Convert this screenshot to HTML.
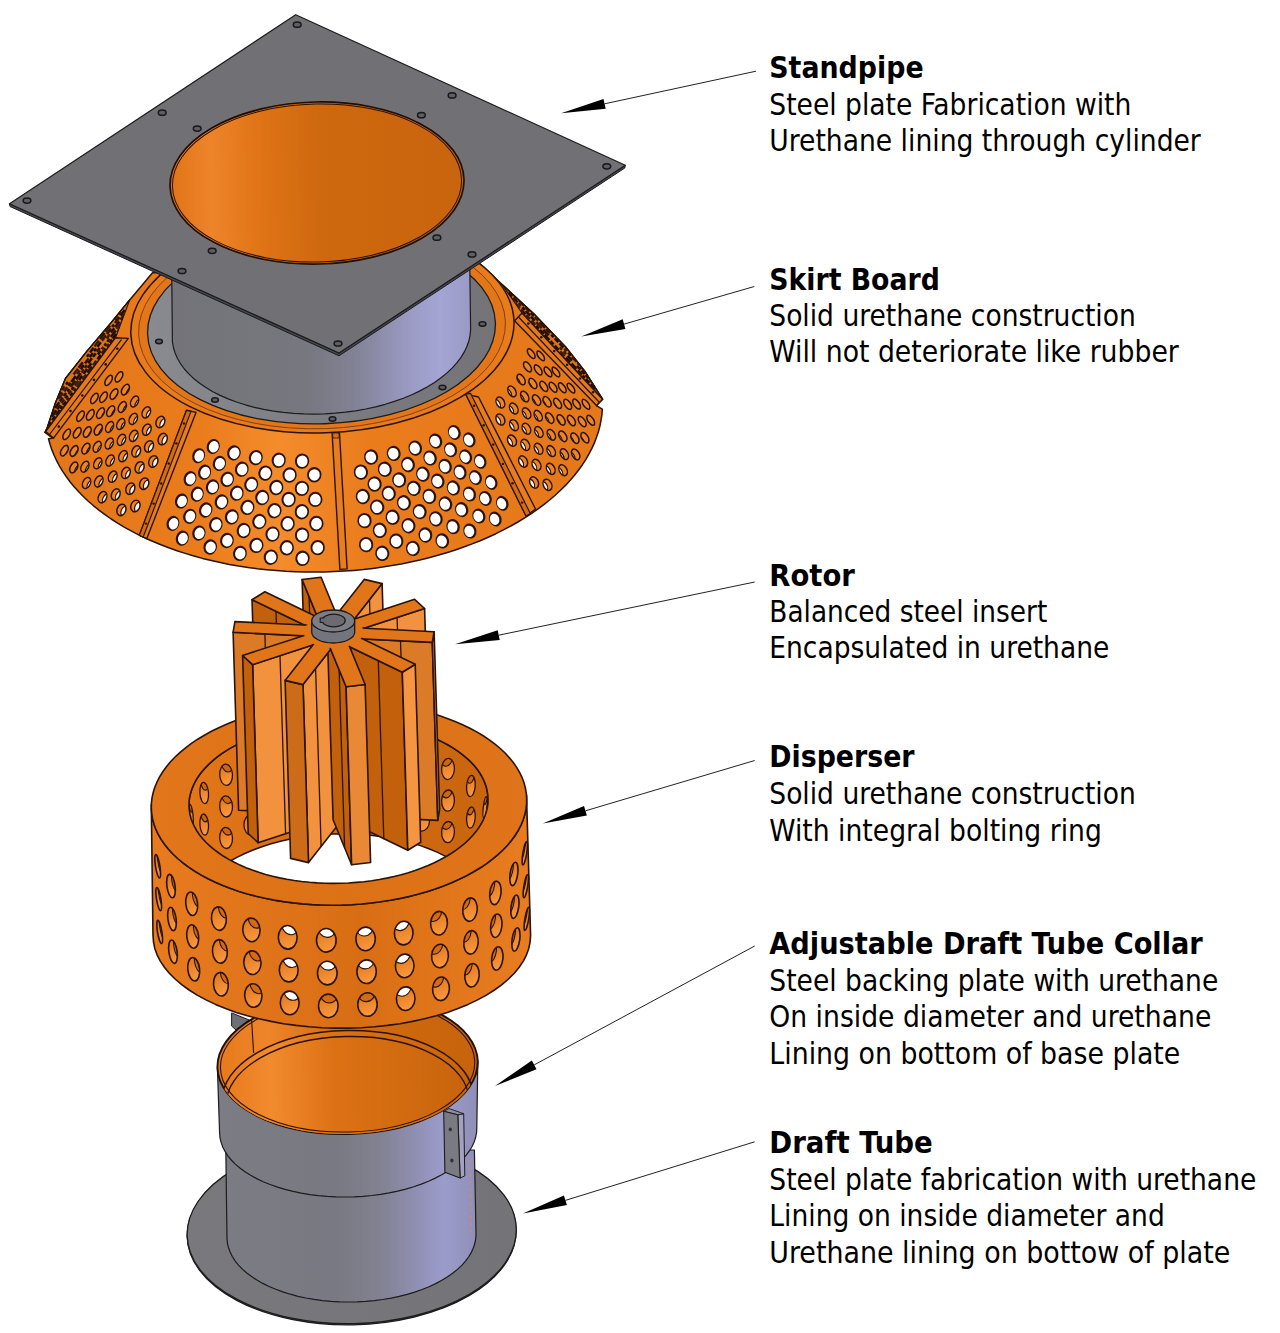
<!DOCTYPE html>
<html lang="en"><head><meta charset="utf-8"><title>Exploded assembly</title>
<style>
html,body{margin:0;padding:0;background:#fff;}
body{width:1280px;height:1333px;overflow:hidden;}
svg{display:block;}
text{font-family:"DejaVu Sans Condensed","DejaVu Sans","Liberation Sans",sans-serif;font-size:30px;fill:#000;}
text.b{font-weight:bold;}
</style></head><body>
<svg width="1280" height="1333" viewBox="0 0 1280 1333">
<defs>
<clipPath id="u"><circle r="1"/></clipPath>
<linearGradient id="gHole" gradientUnits="userSpaceOnUse" x1="170" y1="0" x2="464" y2="0"><stop offset="0" stop-color="#df7317"/><stop offset="0.14" stop-color="#ee842a"/><stop offset="0.3" stop-color="#e07416"/><stop offset="0.5" stop-color="#cf690f"/><stop offset="1" stop-color="#c8640d"/></linearGradient>
<linearGradient id="gCyl" gradientUnits="userSpaceOnUse" x1="171" y1="0" x2="470" y2="0"><stop offset="0" stop-color="#737379"/><stop offset="0.45" stop-color="#77777f"/><stop offset="0.62" stop-color="#828296"/><stop offset="0.78" stop-color="#9898c0"/><stop offset="0.9" stop-color="#a5a5d5"/><stop offset="1" stop-color="#9a9ac6"/></linearGradient>
<linearGradient id="gSkirt" gradientUnits="userSpaceOnUse" x1="45" y1="0" x2="603" y2="0"><stop offset="0" stop-color="#e2761a"/><stop offset="0.28" stop-color="#ea7c1c"/><stop offset="0.42" stop-color="#f48c2c"/><stop offset="0.58" stop-color="#ea7c1c"/><stop offset="1" stop-color="#e4781a"/></linearGradient>
<linearGradient id="gDisp" gradientUnits="userSpaceOnUse" x1="151" y1="0" x2="529" y2="0"><stop offset="0" stop-color="#e87b1e"/><stop offset="0.3" stop-color="#e0741a"/><stop offset="0.55" stop-color="#d86e14"/><stop offset="0.8" stop-color="#e2761a"/><stop offset="1" stop-color="#e87c20"/></linearGradient>
<linearGradient id="gDispTop" gradientUnits="userSpaceOnUse" x1="151" y1="0" x2="529" y2="0"><stop offset="0" stop-color="#e2761a"/><stop offset="0.5" stop-color="#dc7116"/><stop offset="1" stop-color="#e0741a"/></linearGradient>
<linearGradient id="gTube" gradientUnits="userSpaceOnUse" x1="217" y1="0" x2="478" y2="0"><stop offset="0" stop-color="#7c7c84"/><stop offset="0.45" stop-color="#797983"/><stop offset="0.62" stop-color="#818190"/><stop offset="0.75" stop-color="#8e8eb0"/><stop offset="0.87" stop-color="#9c9ccc"/><stop offset="1" stop-color="#8e8eb6"/></linearGradient>
<linearGradient id="gTubeIn" gradientUnits="userSpaceOnUse" x1="217" y1="0" x2="478" y2="0"><stop offset="0" stop-color="#e67a1c"/><stop offset="0.2" stop-color="#ee852a"/><stop offset="0.45" stop-color="#d56c10"/><stop offset="1" stop-color="#c6630c"/></linearGradient>
<linearGradient id="gFlange" gradientUnits="userSpaceOnUse" x1="187" y1="0" x2="517" y2="0"><stop offset="0" stop-color="#78787d"/><stop offset="1" stop-color="#737378"/></linearGradient>
<linearGradient id="gFlangeS" gradientUnits="userSpaceOnUse" x1="147" y1="0" x2="496" y2="0"><stop offset="0" stop-color="#8a8a91"/><stop offset="0.5" stop-color="#7c7c82"/><stop offset="1" stop-color="#737378"/></linearGradient>
<linearGradient id="gSkirtV" gradientUnits="userSpaceOnUse" x1="0" y1="330" x2="0" y2="570"><stop offset="0" stop-color="#ffffff00"/><stop offset="1" stop-color="#ffffff00"/></linearGradient>
<linearGradient id="gDH" x1="0" y1="0" x2="0.3" y2="1"><stop offset="0" stop-color="#dd7318"/><stop offset="1" stop-color="#f8973e"/></linearGradient>
<linearGradient id="gDispIn" gradientUnits="userSpaceOnUse" x1="188" y1="0" x2="490" y2="0"><stop offset="0" stop-color="#e37719"/><stop offset="0.3" stop-color="#d97014"/><stop offset="0.7" stop-color="#cf6910"/><stop offset="1" stop-color="#c8650e"/></linearGradient>
<linearGradient id="gTubeIn2" gradientUnits="userSpaceOnUse" x1="228" y1="0" x2="468" y2="0"><stop offset="0" stop-color="#e87c1e"/><stop offset="0.18" stop-color="#f28a2e"/><stop offset="0.45" stop-color="#dc7114"/><stop offset="1" stop-color="#c8640c"/></linearGradient>
</defs>
<g id="drafttube">
<ellipse cx="351.7" cy="1233.2" rx="164.6" ry="91.6" transform="rotate(-1.2 351.7 1233.2)" fill="#3a3a40" stroke="#1c1c1c" stroke-width="1.2" />
<ellipse cx="351.7" cy="1232" rx="164.6" ry="91.6" transform="rotate(-1.2 351.7 1232)" fill="url(#gFlange)" stroke="#1c1c1c" stroke-width="1.3" />
<polygon points="231.6,1012.9 249.2,1020 236,1030 231.6,1026" fill="#6e6e76" stroke="#1c1c1c" stroke-width="1" stroke-linejoin="round" />
<polygon points="225.8,1150 227,1238.2 227.4,1242.8 228.4,1247.3 230,1251.8 232.2,1256.3 234.9,1260.6 238.2,1264.8 242.1,1268.9 246.5,1272.8 251.5,1276.5 256.9,1280.1 262.8,1283.4 269.1,1286.5 275.8,1289.3 282.8,1291.9 290.3,1294.2 298,1296.3 305.9,1298 314.1,1299.4 322.5,1300.6 331,1301.4 339.6,1301.9 348.3,1302 357,1301.9 365.7,1301.4 374.3,1300.6 382.7,1299.5 391.1,1298.1 399.2,1296.4 407.1,1294.4 414.7,1292.1 422.1,1289.5 429,1286.7 435.7,1283.6 441.8,1280.3 447.6,1276.8 452.9,1273 457.7,1269.1 462,1265.1 465.7,1260.9 468.9,1256.5 471.5,1252.1 473.5,1247.6 474.9,1243 475.8,1238.4 476,1233.8 474.4,1150" fill="url(#gTube)" stroke="#1c1c1c" stroke-width="1.2" stroke-linejoin="round" />
<path d="M470 1160 L471.5 1236" stroke="#d98a5a" stroke-width="1.2" stroke-dasharray="3 4" fill="none"/>
<polygon points="217.4,1067.7 219.6,1133.2 220,1137.8 221.1,1142.4 222.7,1147 225,1151.4 227.9,1155.8 231.3,1160 235.3,1164.1 239.9,1168 245,1171.8 250.6,1175.3 256.7,1178.6 263.2,1181.7 270.1,1184.5 277.5,1187.1 285.1,1189.4 293.1,1191.4 301.3,1193.2 309.8,1194.6 318.4,1195.7 327.2,1196.4 336.1,1196.9 345.1,1197 354.1,1196.9 363,1196.3 371.9,1195.5 380.7,1194.4 389.3,1192.9 397.7,1191.1 405.8,1189.1 413.7,1186.7 421.3,1184.1 428.5,1181.2 435.3,1178.1 441.7,1174.7 447.6,1171.2 453,1167.4 458,1163.4 462.4,1159.3 466.2,1155.1 469.5,1150.7 472.2,1146.2 474.3,1141.7 475.7,1137.1 476.6,1132.5 476.8,1127.8 477.8,1061.3" fill="url(#gTube)" stroke="#1c1c1c" stroke-width="1.2" stroke-linejoin="round" />
<clipPath id="cRim"><ellipse cx="347.6" cy="1064.5" rx="130.2" ry="69.5" transform="rotate(-1.4 347.6 1064.5)" fill="#000" stroke="none" stroke-width="0" /></clipPath>
<ellipse cx="347.6" cy="1064.5" rx="130.2" ry="69.5" transform="rotate(-1.4 347.6 1064.5)" fill="url(#gTubeIn)" stroke="#1f0f06" stroke-width="1.9" />
<g clip-path="url(#cRim)">
<ellipse cx="347.6" cy="1098.5" rx="125.5" ry="68" transform="rotate(-1.2 347.6 1098.5)" fill="url(#gTubeIn2)" stroke="#2a1208" stroke-width="1.5" />
<ellipse cx="347.6" cy="1102.5" rx="121.5" ry="66" transform="rotate(-1.2 347.6 1102.5)" fill="url(#gTubeIn2)" stroke="#2a1208" stroke-width="1.4" />
<path d="M251.6 1020 L253.6 1053" stroke="#2a1208" stroke-width="1.1" fill="none"/>
</g>
<ellipse cx="347.6" cy="1064.8" rx="127.2" ry="67.2" transform="rotate(-1.4 347.6 1064.8)" fill="none" stroke="#2a1208" stroke-width="1.1" />
<polygon points="457.8,1114.8 463.7,1113.7 464.8,1175.8 460.1,1178.1" fill="#a2a2c0" stroke="#1c1c1c" stroke-width="1" stroke-linejoin="round" />
<polygon points="443.7,1111.3 449,1108.5 463.7,1113.7 457.8,1114.8" fill="#8e8e9c" stroke="#1c1c1c" stroke-width="0.9" stroke-linejoin="round" />
<polygon points="443.7,1111.3 457.8,1114.8 460.1,1178.1 444.9,1172.3" fill="#7a7a82" stroke="#1c1c1c" stroke-width="1.1" stroke-linejoin="round" />
<ellipse cx="450.3" cy="1129.4" rx="1.7" ry="1.9" fill="#33333a"/>
<ellipse cx="451.9" cy="1160.5" rx="1.7" ry="1.9" fill="#33333a"/>
</g>
<g id="disperser-back">
<polygon points="488,798.3 487.5,792.6 486.3,787 484.3,781.5 481.7,776.1 478.3,770.8 474.3,765.6 469.5,760.7 464.2,755.9 458.2,751.4 451.7,747.1 444.6,743.1 437,739.3 428.9,735.9 420.4,732.8 411.4,730 402.1,727.6 392.6,725.6 382.7,723.9 372.6,722.6 362.4,721.7 352,721.2 341.6,721 331.2,721.3 320.8,722 310.4,723 300.3,724.5 290.3,726.3 280.5,728.5 271,731 261.9,733.9 253.1,737.2 244.8,740.7 236.9,744.6 229.4,748.7 222.6,753.1 216.3,757.7 210.6,762.6 205.5,767.6 201,772.8 197.2,778.2 194.2,783.6 191.8,789.2 190.1,794.8 189.2,800.5 189,806.1 189,918.9 189.2,913.3 190.1,907.6 191.8,902 194.2,896.4 197.2,891 201,885.6 205.5,880.4 210.6,875.4 216.3,870.5 222.6,865.9 229.4,861.5 236.9,857.4 244.8,853.5 253.1,850 261.9,846.7 271,843.8 280.5,841.3 290.3,839.1 300.3,837.3 310.4,835.8 320.8,834.8 331.2,834.1 341.6,833.8 352,834 362.4,834.5 372.6,835.4 382.7,836.7 392.6,838.4 402.1,840.4 411.4,842.8 420.4,845.6 428.9,848.7 437,852.1 444.6,855.9 451.7,859.9 458.2,864.2 464.2,868.7 469.5,873.5 474.3,878.4 478.3,883.6 481.7,888.9 484.3,894.3 486.3,899.8 487.5,905.4 488,911.1" fill="url(#gDispIn)" stroke="#2a1408" stroke-width="1.5" stroke-linejoin="round" />
<g transform="translate(191.2 815) rotate(-6.5) scale(1.8 10.6)"><circle r="1" fill="url(#gDH)"/><circle cx="0.35" cy="-1.25" r="1" fill="#cc6710" stroke="#2a1408" stroke-width="1.1" vector-effect="non-scaling-stroke" clip-path="url(#u)"/><circle r="1" fill="none" stroke="#2a1408" stroke-width="1.3" vector-effect="non-scaling-stroke"/></g>
<g transform="translate(191.2 846.6) rotate(-6.5) scale(1.8 10.6)"><circle r="1" fill="url(#gDH)"/><circle cx="0.35" cy="-1.25" r="1" fill="#cc6710" stroke="#2a1408" stroke-width="1.1" vector-effect="non-scaling-stroke" clip-path="url(#u)"/><circle r="1" fill="none" stroke="#2a1408" stroke-width="1.3" vector-effect="non-scaling-stroke"/></g>
<g transform="translate(191.2 878.2) rotate(-6.5) scale(1.8 10.6)"><circle r="1" fill="url(#gDH)"/><circle cx="0.35" cy="-1.25" r="1" fill="#cc6710" stroke="#2a1408" stroke-width="1.1" vector-effect="non-scaling-stroke" clip-path="url(#u)"/><circle r="1" fill="none" stroke="#2a1408" stroke-width="1.3" vector-effect="non-scaling-stroke"/></g>
<g transform="translate(204.2 793) rotate(-4.4) scale(4.3 10.6)"><circle r="1" fill="url(#gDH)"/><circle cx="0.35" cy="-1.25" r="1" fill="#cc6710" stroke="#2a1408" stroke-width="1.1" vector-effect="non-scaling-stroke" clip-path="url(#u)"/><circle r="1" fill="none" stroke="#2a1408" stroke-width="1.3" vector-effect="non-scaling-stroke"/></g>
<g transform="translate(204.2 824.6) rotate(-4.4) scale(4.3 10.6)"><circle r="1" fill="url(#gDH)"/><circle cx="0.35" cy="-1.25" r="1" fill="#cc6710" stroke="#2a1408" stroke-width="1.1" vector-effect="non-scaling-stroke" clip-path="url(#u)"/><circle r="1" fill="none" stroke="#2a1408" stroke-width="1.3" vector-effect="non-scaling-stroke"/></g>
<g transform="translate(204.2 856.2) rotate(-4.4) scale(4.3 10.6)"><circle r="1" fill="url(#gDH)"/><circle cx="0.35" cy="-1.25" r="1" fill="#cc6710" stroke="#2a1408" stroke-width="1.1" vector-effect="non-scaling-stroke" clip-path="url(#u)"/><circle r="1" fill="none" stroke="#2a1408" stroke-width="1.3" vector-effect="non-scaling-stroke"/></g>
<g transform="translate(226.1 774.8) rotate(-2.6) scale(6.4 10.6)"><circle r="1" fill="url(#gDH)"/><circle cx="0.35" cy="-1.25" r="1" fill="#cc6710" stroke="#2a1408" stroke-width="1.1" vector-effect="non-scaling-stroke" clip-path="url(#u)"/><circle r="1" fill="none" stroke="#2a1408" stroke-width="1.3" vector-effect="non-scaling-stroke"/></g>
<g transform="translate(226.1 806.4) rotate(-2.6) scale(6.4 10.6)"><circle r="1" fill="url(#gDH)"/><circle cx="0.35" cy="-1.25" r="1" fill="#cc6710" stroke="#2a1408" stroke-width="1.1" vector-effect="non-scaling-stroke" clip-path="url(#u)"/><circle r="1" fill="none" stroke="#2a1408" stroke-width="1.3" vector-effect="non-scaling-stroke"/></g>
<g transform="translate(226.1 837.9) rotate(-2.6) scale(6.4 10.6)"><circle r="1" fill="url(#gDH)"/><circle cx="0.35" cy="-1.25" r="1" fill="#cc6710" stroke="#2a1408" stroke-width="1.1" vector-effect="non-scaling-stroke" clip-path="url(#u)"/><circle r="1" fill="none" stroke="#2a1408" stroke-width="1.3" vector-effect="non-scaling-stroke"/></g>
<g transform="translate(251.8 761.7) rotate(-1.4) scale(7.9 10.6)"><circle r="1" fill="url(#gDH)"/><circle cx="0.35" cy="-1.25" r="1" fill="#cc6710" stroke="#2a1408" stroke-width="1.1" vector-effect="non-scaling-stroke" clip-path="url(#u)"/><circle r="1" fill="none" stroke="#2a1408" stroke-width="1.3" vector-effect="non-scaling-stroke"/></g>
<g transform="translate(251.8 793.3) rotate(-1.4) scale(7.9 10.6)"><circle r="1" fill="url(#gDH)"/><circle cx="0.35" cy="-1.25" r="1" fill="#cc6710" stroke="#2a1408" stroke-width="1.1" vector-effect="non-scaling-stroke" clip-path="url(#u)"/><circle r="1" fill="none" stroke="#2a1408" stroke-width="1.3" vector-effect="non-scaling-stroke"/></g>
<g transform="translate(251.8 824.9) rotate(-1.4) scale(7.9 10.6)"><circle r="1" fill="url(#gDH)"/><circle cx="0.35" cy="-1.25" r="1" fill="#cc6710" stroke="#2a1408" stroke-width="1.1" vector-effect="non-scaling-stroke" clip-path="url(#u)"/><circle r="1" fill="none" stroke="#2a1408" stroke-width="1.3" vector-effect="non-scaling-stroke"/></g>
<g transform="translate(421.7 757.3) rotate(1.4) scale(7.9 10.6)"><circle r="1" fill="url(#gDH)"/><circle cx="-0.35" cy="-1.25" r="1" fill="#cc6710" stroke="#2a1408" stroke-width="1.1" vector-effect="non-scaling-stroke" clip-path="url(#u)"/><circle r="1" fill="none" stroke="#2a1408" stroke-width="1.3" vector-effect="non-scaling-stroke"/></g>
<g transform="translate(421.7 788.9) rotate(1.4) scale(7.9 10.6)"><circle r="1" fill="url(#gDH)"/><circle cx="-0.35" cy="-1.25" r="1" fill="#cc6710" stroke="#2a1408" stroke-width="1.1" vector-effect="non-scaling-stroke" clip-path="url(#u)"/><circle r="1" fill="none" stroke="#2a1408" stroke-width="1.3" vector-effect="non-scaling-stroke"/></g>
<g transform="translate(421.7 820.5) rotate(1.4) scale(7.9 10.6)"><circle r="1" fill="url(#gDH)"/><circle cx="-0.35" cy="-1.25" r="1" fill="#cc6710" stroke="#2a1408" stroke-width="1.1" vector-effect="non-scaling-stroke" clip-path="url(#u)"/><circle r="1" fill="none" stroke="#2a1408" stroke-width="1.3" vector-effect="non-scaling-stroke"/></g>
<g transform="translate(448 769) rotate(2.6) scale(6.4 10.6)"><circle r="1" fill="url(#gDH)"/><circle cx="-0.35" cy="-1.25" r="1" fill="#cc6710" stroke="#2a1408" stroke-width="1.1" vector-effect="non-scaling-stroke" clip-path="url(#u)"/><circle r="1" fill="none" stroke="#2a1408" stroke-width="1.3" vector-effect="non-scaling-stroke"/></g>
<g transform="translate(448 800.6) rotate(2.6) scale(6.4 10.6)"><circle r="1" fill="url(#gDH)"/><circle cx="-0.35" cy="-1.25" r="1" fill="#cc6710" stroke="#2a1408" stroke-width="1.1" vector-effect="non-scaling-stroke" clip-path="url(#u)"/><circle r="1" fill="none" stroke="#2a1408" stroke-width="1.3" vector-effect="non-scaling-stroke"/></g>
<g transform="translate(448 832.1) rotate(2.6) scale(6.4 10.6)"><circle r="1" fill="url(#gDH)"/><circle cx="-0.35" cy="-1.25" r="1" fill="#cc6710" stroke="#2a1408" stroke-width="1.1" vector-effect="non-scaling-stroke" clip-path="url(#u)"/><circle r="1" fill="none" stroke="#2a1408" stroke-width="1.3" vector-effect="non-scaling-stroke"/></g>
<g transform="translate(470.9 786) rotate(4.4) scale(4.3 10.6)"><circle r="1" fill="url(#gDH)"/><circle cx="-0.35" cy="-1.25" r="1" fill="#cc6710" stroke="#2a1408" stroke-width="1.1" vector-effect="non-scaling-stroke" clip-path="url(#u)"/><circle r="1" fill="none" stroke="#2a1408" stroke-width="1.3" vector-effect="non-scaling-stroke"/></g>
<g transform="translate(470.9 817.6) rotate(4.4) scale(4.3 10.6)"><circle r="1" fill="url(#gDH)"/><circle cx="-0.35" cy="-1.25" r="1" fill="#cc6710" stroke="#2a1408" stroke-width="1.1" vector-effect="non-scaling-stroke" clip-path="url(#u)"/><circle r="1" fill="none" stroke="#2a1408" stroke-width="1.3" vector-effect="non-scaling-stroke"/></g>
<g transform="translate(470.9 849.2) rotate(4.4) scale(4.3 10.6)"><circle r="1" fill="url(#gDH)"/><circle cx="-0.35" cy="-1.25" r="1" fill="#cc6710" stroke="#2a1408" stroke-width="1.1" vector-effect="non-scaling-stroke" clip-path="url(#u)"/><circle r="1" fill="none" stroke="#2a1408" stroke-width="1.3" vector-effect="non-scaling-stroke"/></g>
<g transform="translate(485.1 807.3) rotate(6.5) scale(1.8 10.6)"><circle r="1" fill="url(#gDH)"/><circle cx="-0.35" cy="-1.25" r="1" fill="#cc6710" stroke="#2a1408" stroke-width="1.1" vector-effect="non-scaling-stroke" clip-path="url(#u)"/><circle r="1" fill="none" stroke="#2a1408" stroke-width="1.3" vector-effect="non-scaling-stroke"/></g>
<g transform="translate(485.1 838.9) rotate(6.5) scale(1.8 10.6)"><circle r="1" fill="url(#gDH)"/><circle cx="-0.35" cy="-1.25" r="1" fill="#cc6710" stroke="#2a1408" stroke-width="1.1" vector-effect="non-scaling-stroke" clip-path="url(#u)"/><circle r="1" fill="none" stroke="#2a1408" stroke-width="1.3" vector-effect="non-scaling-stroke"/></g>
<g transform="translate(485.1 870.5) rotate(6.5) scale(1.8 10.6)"><circle r="1" fill="url(#gDH)"/><circle cx="-0.35" cy="-1.25" r="1" fill="#cc6710" stroke="#2a1408" stroke-width="1.1" vector-effect="non-scaling-stroke" clip-path="url(#u)"/><circle r="1" fill="none" stroke="#2a1408" stroke-width="1.3" vector-effect="non-scaling-stroke"/></g>
</g>
<g id="disperser-front">
<polygon points="151.3,804.9 151.5,812 152.6,819 154.6,826 157.5,832.8 161.3,839.6 165.9,846.1 171.4,852.4 177.7,858.5 184.8,864.4 192.7,869.9 201.3,875.1 210.5,880 220.4,884.5 230.8,888.6 241.8,892.2 253.2,895.5 265.1,898.3 277.3,900.6 289.8,902.5 302.6,903.9 315.5,904.8 328.6,905.2 341.7,905.1 354.7,904.5 367.8,903.4 380.6,901.8 393.3,899.8 405.7,897.3 417.8,894.3 429.5,890.9 440.7,887 451.5,882.8 461.7,878.1 471.3,873.1 480.3,867.8 488.6,862.2 496.1,856.2 502.9,850 508.9,843.6 514.1,837 518.4,830.2 521.8,823.3 524.3,816.3 526,809.2 526.7,802.1 526.5,795 530.6,935.5 530.1,942 528.8,948.4 526.5,954.8 523.3,961.1 519.2,967.2 514.3,973.2 508.5,979 501.9,984.6 494.5,990 486.4,995.1 477.6,999.9 468.1,1004.4 458,1008.5 447.4,1012.4 436.2,1015.8 424.6,1018.8 412.5,1021.4 400.1,1023.7 387.5,1025.4 374.6,1026.8 361.5,1027.7 348.4,1028.1 335.2,1028.1 322.1,1027.7 309,1026.8 296.1,1025.4 283.5,1023.7 271.1,1021.4 259,1018.8 247.4,1015.8 236.2,1012.4 225.6,1008.5 215.5,1004.4 206,999.9 197.2,995.1 189.1,990 181.7,984.6 175.1,979 169.3,973.2 164.4,967.2 160.3,961.1 157.1,954.8 154.8,948.4 153.5,942 153,935.5" fill="url(#gDisp)" stroke="#2a1408" stroke-width="1.6" stroke-linejoin="round" />
<path d="M341.7 905.1 L351.5 904.7 L361.3 904 L371 903 L380.6 901.8 L390.2 900.3 L399.5 898.6 L408.8 896.6 L417.8 894.3 L426.6 891.8 L435.2 889 L443.5 886 L451.5 882.8 L459.2 879.3 L466.6 875.7 L473.6 871.8 L480.3 867.8 L486.6 863.6 L492.4 859.2 L497.9 854.7 L502.9 850 L507.5 845.2 L511.6 840.3 L515.2 835.3 L518.4 830.2 L521 825 L523.2 819.8 L524.8 814.5 L526 809.2 L526.6 803.9 L526.7 798.6 L526.3 793.3 L525.4 788 L524 782.8 L522.1 777.6 L519.7 772.5 L516.7 767.4 L513.3 762.5 L509.4 757.7 L505.1 753 L500.3 748.5 L495 744.1 L489.3 739.8 L483.2 735.8 L476.7 731.9 L469.9 728.2 L462.6 724.7 L455.1 721.5 L447.2 718.4 L439 715.6 L430.6 713.1 L421.9 710.8 L412.9 708.7 L403.8 706.9 L394.5 705.4 L385 704.1 L375.4 703.1 L365.7 702.4 L356 702 L346.2 701.8 L336.3 701.9 L326.5 702.3 L316.7 703 L307 704 L297.4 705.2 L287.8 706.7 L278.5 708.4 L269.2 710.4 L260.2 712.7 L251.4 715.2 L242.8 718 L234.5 721 L226.5 724.2 L218.8 727.7 L211.4 731.3 L204.4 735.2 L197.7 739.2 L191.4 743.4 L185.6 747.8 L180.1 752.3 L175.1 757 L170.5 761.8 L166.4 766.7 L162.8 771.7 L159.6 776.8 L157 782 L154.8 787.2 L153.2 792.5 L152 797.8 L151.4 803.1 L151.3 808.4 L151.7 813.7 L152.6 819 L154 824.2 L155.9 829.4 L158.3 834.5 L161.3 839.6 L164.7 844.5 L168.6 849.3 L172.9 854 L177.7 858.5 L183 862.9 L188.7 867.2 L194.8 871.2 L201.3 875.1 L208.1 878.8 L215.4 882.3 L222.9 885.5 L230.8 888.6 L239 891.4 L247.4 893.9 L256.1 896.2 L265.1 898.3 L274.2 900.1 L283.5 901.6 L293 902.9 L302.6 903.9 L312.3 904.6 L322 905 L331.8 905.2 L341.7 905.1Z M340.6 883.3 L348.4 883 L356.2 882.4 L364 881.7 L371.7 880.7 L379.3 879.5 L386.7 878.1 L394.1 876.5 L401.3 874.7 L408.3 872.7 L415.1 870.5 L421.7 868.1 L428.1 865.5 L434.3 862.7 L440.1 859.8 L445.7 856.8 L451.1 853.5 L456.1 850.2 L460.7 846.7 L465.1 843.1 L469.1 839.3 L472.7 835.5 L476 831.6 L478.9 827.6 L481.4 823.5 L483.5 819.4 L485.2 815.2 L486.5 811 L487.5 806.8 L488 802.5 L488 798.3 L487.7 794 L487 789.8 L485.9 785.6 L484.3 781.5 L482.4 777.4 L480.1 773.4 L477.4 769.5 L474.3 765.6 L470.8 761.9 L467 758.3 L462.8 754.8 L458.2 751.4 L453.4 748.1 L448.2 745 L442.7 742.1 L437 739.3 L431 736.7 L424.7 734.3 L418.2 732.1 L411.4 730 L404.5 728.2 L397.4 726.5 L390.1 725.1 L382.7 723.9 L375.2 722.9 L367.5 722.1 L359.8 721.5 L352 721.2 L344.2 721 L336.4 721.1 L328.6 721.4 L320.8 722 L313 722.7 L305.3 723.7 L297.7 724.9 L290.3 726.3 L282.9 727.9 L275.7 729.7 L268.7 731.7 L261.9 733.9 L255.3 736.3 L248.9 738.9 L242.7 741.7 L236.9 744.6 L231.3 747.6 L225.9 750.9 L220.9 754.2 L216.3 757.7 L211.9 761.3 L207.9 765.1 L204.3 768.9 L201 772.8 L198.1 776.8 L195.6 780.9 L193.5 785 L191.8 789.2 L190.5 793.4 L189.5 797.6 L189 801.9 L189 806.1 L189.3 810.4 L190 814.6 L191.1 818.8 L192.7 822.9 L194.6 827 L196.9 831 L199.6 834.9 L202.7 838.8 L206.2 842.5 L210 846.1 L214.2 849.6 L218.8 853 L223.6 856.3 L228.8 859.4 L234.3 862.3 L240 865.1 L246 867.7 L252.3 870.1 L258.8 872.3 L265.6 874.4 L272.5 876.2 L279.6 877.9 L286.9 879.3 L294.3 880.5 L301.8 881.5 L309.5 882.3 L317.2 882.9 L325 883.2 L332.8 883.4 L340.6 883.3Z" fill="url(#gDispTop)" fill-rule="evenodd" stroke="#2a1408" stroke-width="1.6"/>
<g transform="translate(157.7 866.3) rotate(-9.2) scale(2.2 11.8)"><circle r="1" fill="url(#gDH)"/><circle cx="1.40" cy="-0.38" r="1" fill="#d46b12" stroke="#2a1408" stroke-width="1.1" vector-effect="non-scaling-stroke" clip-path="url(#u)"/><circle r="1" fill="none" stroke="#2a1408" stroke-width="1.6" vector-effect="non-scaling-stroke"/></g>
<g transform="translate(158.7 899.1) rotate(-9.2) scale(2.2 11.8)"><circle r="1" fill="url(#gDH)"/><circle cx="1.40" cy="-0.38" r="1" fill="#d46b12" stroke="#2a1408" stroke-width="1.1" vector-effect="non-scaling-stroke" clip-path="url(#u)"/><circle r="1" fill="none" stroke="#2a1408" stroke-width="1.6" vector-effect="non-scaling-stroke"/></g>
<g transform="translate(159.7 931.9) rotate(-9.2) scale(2.2 11.8)"><circle r="1" fill="url(#gDH)"/><circle cx="1.40" cy="-0.38" r="1" fill="#d46b12" stroke="#2a1408" stroke-width="1.1" vector-effect="non-scaling-stroke" clip-path="url(#u)"/><circle r="1" fill="none" stroke="#2a1408" stroke-width="1.6" vector-effect="non-scaling-stroke"/></g>
<g transform="translate(171 886.1) rotate(-7.8) scale(4.1 11.8)"><circle r="1" fill="url(#gDH)"/><circle cx="1.38" cy="-0.45" r="1" fill="#d46b12" stroke="#2a1408" stroke-width="1.1" vector-effect="non-scaling-stroke" clip-path="url(#u)"/><circle r="1" fill="none" stroke="#2a1408" stroke-width="1.6" vector-effect="non-scaling-stroke"/></g>
<g transform="translate(172 918.9) rotate(-7.8) scale(4.1 11.8)"><circle r="1" fill="url(#gDH)"/><circle cx="1.38" cy="-0.45" r="1" fill="#d46b12" stroke="#2a1408" stroke-width="1.1" vector-effect="non-scaling-stroke" clip-path="url(#u)"/><circle r="1" fill="none" stroke="#2a1408" stroke-width="1.6" vector-effect="non-scaling-stroke"/></g>
<g transform="translate(173 951.7) rotate(-7.8) scale(4.1 11.8)"><circle r="1" fill="url(#gDH)"/><circle cx="1.38" cy="-0.45" r="1" fill="#d46b12" stroke="#2a1408" stroke-width="1.1" vector-effect="non-scaling-stroke" clip-path="url(#u)"/><circle r="1" fill="none" stroke="#2a1408" stroke-width="1.6" vector-effect="non-scaling-stroke"/></g>
<g transform="translate(191.7 903.7) rotate(-6.4) scale(5.9 11.8)"><circle r="1" fill="url(#gDH)"/><circle cx="1.29" cy="-0.66" r="1" fill="#d46b12" stroke="#2a1408" stroke-width="1.1" vector-effect="non-scaling-stroke" clip-path="url(#u)"/><circle r="1" fill="none" stroke="#2a1408" stroke-width="1.6" vector-effect="non-scaling-stroke"/></g>
<g transform="translate(192.7 936.5) rotate(-6.4) scale(5.9 11.8)"><circle r="1" fill="url(#gDH)"/><circle cx="1.29" cy="-0.66" r="1" fill="#d46b12" stroke="#2a1408" stroke-width="1.1" vector-effect="non-scaling-stroke" clip-path="url(#u)"/><circle r="1" fill="none" stroke="#2a1408" stroke-width="1.6" vector-effect="non-scaling-stroke"/></g>
<g transform="translate(193.7 969.3) rotate(-6.4) scale(5.9 11.8)"><circle r="1" fill="url(#gDH)"/><circle cx="1.29" cy="-0.66" r="1" fill="#d46b12" stroke="#2a1408" stroke-width="1.1" vector-effect="non-scaling-stroke" clip-path="url(#u)"/><circle r="1" fill="none" stroke="#2a1408" stroke-width="1.6" vector-effect="non-scaling-stroke"/></g>
<g transform="translate(218.9 918.6) rotate(-4.9) scale(7.4 11.8)"><circle r="1" fill="url(#gDH)"/><circle cx="1.06" cy="-0.98" r="1" fill="#d46b12" stroke="#2a1408" stroke-width="1.1" vector-effect="non-scaling-stroke" clip-path="url(#u)"/><circle r="1" fill="none" stroke="#2a1408" stroke-width="1.6" vector-effect="non-scaling-stroke"/></g>
<g transform="translate(219.9 951.4) rotate(-4.9) scale(7.4 11.8)"><circle r="1" fill="url(#gDH)"/><circle cx="1.06" cy="-0.98" r="1" fill="#d46b12" stroke="#2a1408" stroke-width="1.1" vector-effect="non-scaling-stroke" clip-path="url(#u)"/><circle r="1" fill="none" stroke="#2a1408" stroke-width="1.6" vector-effect="non-scaling-stroke"/></g>
<g transform="translate(220.9 984.2) rotate(-4.9) scale(7.4 11.8)"><circle r="1" fill="url(#gDH)"/><circle cx="1.06" cy="-0.98" r="1" fill="#d46b12" stroke="#2a1408" stroke-width="1.1" vector-effect="non-scaling-stroke" clip-path="url(#u)"/><circle r="1" fill="none" stroke="#2a1408" stroke-width="1.6" vector-effect="non-scaling-stroke"/></g>
<g transform="translate(251.4 929.9) rotate(-3.5) scale(8.6 11.8)"><circle r="1" fill="url(#gDH)"/><circle cx="0.69" cy="-1.12" r="1" fill="#d46b12" stroke="#2a1408" stroke-width="1.1" vector-effect="non-scaling-stroke" clip-path="url(#u)"/><circle r="1" fill="none" stroke="#2a1408" stroke-width="1.6" vector-effect="non-scaling-stroke"/></g>
<g transform="translate(252.4 962.7) rotate(-3.5) scale(8.6 11.8)"><circle r="1" fill="url(#gDH)"/><circle cx="0.69" cy="-1.12" r="1" fill="#d46b12" stroke="#2a1408" stroke-width="1.1" vector-effect="non-scaling-stroke" clip-path="url(#u)"/><circle r="1" fill="none" stroke="#2a1408" stroke-width="1.6" vector-effect="non-scaling-stroke"/></g>
<g transform="translate(253.3 995.5) rotate(-3.5) scale(8.6 11.8)"><circle r="1" fill="url(#gDH)"/><circle cx="0.69" cy="-1.12" r="1" fill="#d46b12" stroke="#2a1408" stroke-width="1.1" vector-effect="non-scaling-stroke" clip-path="url(#u)"/><circle r="1" fill="none" stroke="#2a1408" stroke-width="1.6" vector-effect="non-scaling-stroke"/></g>
<g transform="translate(287.7 937.3) rotate(-2) scale(9.4 11.8)"><circle r="1" fill="url(#gDH)"/><circle cx="0.38" cy="-1.21" r="1" fill="#fff" stroke="#2a1408" stroke-width="1.1" vector-effect="non-scaling-stroke" clip-path="url(#u)"/><circle r="1" fill="none" stroke="#2a1408" stroke-width="1.6" vector-effect="non-scaling-stroke"/></g>
<g transform="translate(288.7 970.1) rotate(-2) scale(9.4 11.8)"><circle r="1" fill="url(#gDH)"/><circle cx="0.38" cy="-1.21" r="1" fill="#fff" stroke="#2a1408" stroke-width="1.1" vector-effect="non-scaling-stroke" clip-path="url(#u)"/><circle r="1" fill="none" stroke="#2a1408" stroke-width="1.6" vector-effect="non-scaling-stroke"/></g>
<g transform="translate(289.7 1002.9) rotate(-2) scale(9.4 11.8)"><circle r="1" fill="url(#gDH)"/><circle cx="0.38" cy="-1.21" r="1" fill="#fff" stroke="#2a1408" stroke-width="1.1" vector-effect="non-scaling-stroke" clip-path="url(#u)"/><circle r="1" fill="none" stroke="#2a1408" stroke-width="1.6" vector-effect="non-scaling-stroke"/></g>
<g transform="translate(326.3 940.3) rotate(-0.6) scale(9.8 11.8)"><circle r="1" fill="url(#gDH)"/><circle cx="0.11" cy="-1.25" r="1" fill="#fff" stroke="#2a1408" stroke-width="1.1" vector-effect="non-scaling-stroke" clip-path="url(#u)"/><circle r="1" fill="none" stroke="#2a1408" stroke-width="1.6" vector-effect="non-scaling-stroke"/></g>
<g transform="translate(327.3 973.1) rotate(-0.6) scale(9.8 11.8)"><circle r="1" fill="url(#gDH)"/><circle cx="0.11" cy="-1.25" r="1" fill="#fff" stroke="#2a1408" stroke-width="1.1" vector-effect="non-scaling-stroke" clip-path="url(#u)"/><circle r="1" fill="none" stroke="#2a1408" stroke-width="1.6" vector-effect="non-scaling-stroke"/></g>
<g transform="translate(328.3 1005.9) rotate(-0.6) scale(9.8 11.8)"><circle r="1" fill="url(#gDH)"/><circle cx="0.11" cy="-1.25" r="1" fill="#d46b12" stroke="#2a1408" stroke-width="1.1" vector-effect="non-scaling-stroke" clip-path="url(#u)"/><circle r="1" fill="none" stroke="#2a1408" stroke-width="1.6" vector-effect="non-scaling-stroke"/></g>
<g transform="translate(365.6 938.9) rotate(0.8) scale(9.7 11.8)"><circle r="1" fill="url(#gDH)"/><circle cx="-0.15" cy="-1.24" r="1" fill="#fff" stroke="#2a1408" stroke-width="1.1" vector-effect="non-scaling-stroke" clip-path="url(#u)"/><circle r="1" fill="none" stroke="#2a1408" stroke-width="1.6" vector-effect="non-scaling-stroke"/></g>
<g transform="translate(366.6 971.7) rotate(0.8) scale(9.7 11.8)"><circle r="1" fill="url(#gDH)"/><circle cx="-0.15" cy="-1.24" r="1" fill="#fff" stroke="#2a1408" stroke-width="1.1" vector-effect="non-scaling-stroke" clip-path="url(#u)"/><circle r="1" fill="none" stroke="#2a1408" stroke-width="1.6" vector-effect="non-scaling-stroke"/></g>
<g transform="translate(367.5 1004.5) rotate(0.8) scale(9.7 11.8)"><circle r="1" fill="url(#gDH)"/><circle cx="-0.15" cy="-1.24" r="1" fill="#d46b12" stroke="#2a1408" stroke-width="1.1" vector-effect="non-scaling-stroke" clip-path="url(#u)"/><circle r="1" fill="none" stroke="#2a1408" stroke-width="1.6" vector-effect="non-scaling-stroke"/></g>
<g transform="translate(403.7 933.1) rotate(2.3) scale(9.3 11.8)"><circle r="1" fill="url(#gDH)"/><circle cx="-0.43" cy="-1.20" r="1" fill="#fff" stroke="#2a1408" stroke-width="1.1" vector-effect="non-scaling-stroke" clip-path="url(#u)"/><circle r="1" fill="none" stroke="#2a1408" stroke-width="1.6" vector-effect="non-scaling-stroke"/></g>
<g transform="translate(404.7 965.9) rotate(2.3) scale(9.3 11.8)"><circle r="1" fill="url(#gDH)"/><circle cx="-0.43" cy="-1.20" r="1" fill="#fff" stroke="#2a1408" stroke-width="1.1" vector-effect="non-scaling-stroke" clip-path="url(#u)"/><circle r="1" fill="none" stroke="#2a1408" stroke-width="1.6" vector-effect="non-scaling-stroke"/></g>
<g transform="translate(405.7 998.7) rotate(2.3) scale(9.3 11.8)"><circle r="1" fill="url(#gDH)"/><circle cx="-0.43" cy="-1.20" r="1" fill="#fff" stroke="#2a1408" stroke-width="1.1" vector-effect="non-scaling-stroke" clip-path="url(#u)"/><circle r="1" fill="none" stroke="#2a1408" stroke-width="1.6" vector-effect="non-scaling-stroke"/></g>
<g transform="translate(439 923.2) rotate(3.7) scale(8.4 11.8)"><circle r="1" fill="url(#gDH)"/><circle cx="-0.75" cy="-1.11" r="1" fill="#d46b12" stroke="#2a1408" stroke-width="1.1" vector-effect="non-scaling-stroke" clip-path="url(#u)"/><circle r="1" fill="none" stroke="#2a1408" stroke-width="1.6" vector-effect="non-scaling-stroke"/></g>
<g transform="translate(440 956) rotate(3.7) scale(8.4 11.8)"><circle r="1" fill="url(#gDH)"/><circle cx="-0.75" cy="-1.11" r="1" fill="#d46b12" stroke="#2a1408" stroke-width="1.1" vector-effect="non-scaling-stroke" clip-path="url(#u)"/><circle r="1" fill="none" stroke="#2a1408" stroke-width="1.6" vector-effect="non-scaling-stroke"/></g>
<g transform="translate(441 988.8) rotate(3.7) scale(8.4 11.8)"><circle r="1" fill="url(#gDH)"/><circle cx="-0.75" cy="-1.11" r="1" fill="#d46b12" stroke="#2a1408" stroke-width="1.1" vector-effect="non-scaling-stroke" clip-path="url(#u)"/><circle r="1" fill="none" stroke="#2a1408" stroke-width="1.6" vector-effect="non-scaling-stroke"/></g>
<g transform="translate(470 909.6) rotate(5.2) scale(7.2 11.8)"><circle r="1" fill="url(#gDH)"/><circle cx="-1.11" cy="-0.93" r="1" fill="#d46b12" stroke="#2a1408" stroke-width="1.1" vector-effect="non-scaling-stroke" clip-path="url(#u)"/><circle r="1" fill="none" stroke="#2a1408" stroke-width="1.6" vector-effect="non-scaling-stroke"/></g>
<g transform="translate(471 942.4) rotate(5.2) scale(7.2 11.8)"><circle r="1" fill="url(#gDH)"/><circle cx="-1.11" cy="-0.93" r="1" fill="#d46b12" stroke="#2a1408" stroke-width="1.1" vector-effect="non-scaling-stroke" clip-path="url(#u)"/><circle r="1" fill="none" stroke="#2a1408" stroke-width="1.6" vector-effect="non-scaling-stroke"/></g>
<g transform="translate(472 975.2) rotate(5.2) scale(7.2 11.8)"><circle r="1" fill="url(#gDH)"/><circle cx="-1.11" cy="-0.93" r="1" fill="#d46b12" stroke="#2a1408" stroke-width="1.1" vector-effect="non-scaling-stroke" clip-path="url(#u)"/><circle r="1" fill="none" stroke="#2a1408" stroke-width="1.6" vector-effect="non-scaling-stroke"/></g>
<g transform="translate(495.4 892.9) rotate(6.6) scale(5.6 11.8)"><circle r="1" fill="url(#gDH)"/><circle cx="-1.32" cy="-0.61" r="1" fill="#d46b12" stroke="#2a1408" stroke-width="1.1" vector-effect="non-scaling-stroke" clip-path="url(#u)"/><circle r="1" fill="none" stroke="#2a1408" stroke-width="1.6" vector-effect="non-scaling-stroke"/></g>
<g transform="translate(496.3 925.7) rotate(6.6) scale(5.6 11.8)"><circle r="1" fill="url(#gDH)"/><circle cx="-1.32" cy="-0.61" r="1" fill="#d46b12" stroke="#2a1408" stroke-width="1.1" vector-effect="non-scaling-stroke" clip-path="url(#u)"/><circle r="1" fill="none" stroke="#2a1408" stroke-width="1.6" vector-effect="non-scaling-stroke"/></g>
<g transform="translate(497.3 958.5) rotate(6.6) scale(5.6 11.8)"><circle r="1" fill="url(#gDH)"/><circle cx="-1.32" cy="-0.61" r="1" fill="#d46b12" stroke="#2a1408" stroke-width="1.1" vector-effect="non-scaling-stroke" clip-path="url(#u)"/><circle r="1" fill="none" stroke="#2a1408" stroke-width="1.6" vector-effect="non-scaling-stroke"/></g>
<g transform="translate(513.9 873.9) rotate(8) scale(3.8 11.8)"><circle r="1" fill="url(#gDH)"/><circle cx="-1.39" cy="-0.42" r="1" fill="#d46b12" stroke="#2a1408" stroke-width="1.1" vector-effect="non-scaling-stroke" clip-path="url(#u)"/><circle r="1" fill="none" stroke="#2a1408" stroke-width="1.6" vector-effect="non-scaling-stroke"/></g>
<g transform="translate(514.9 906.7) rotate(8) scale(3.8 11.8)"><circle r="1" fill="url(#gDH)"/><circle cx="-1.39" cy="-0.42" r="1" fill="#d46b12" stroke="#2a1408" stroke-width="1.1" vector-effect="non-scaling-stroke" clip-path="url(#u)"/><circle r="1" fill="none" stroke="#2a1408" stroke-width="1.6" vector-effect="non-scaling-stroke"/></g>
<g transform="translate(515.9 939.5) rotate(8) scale(3.8 11.8)"><circle r="1" fill="url(#gDH)"/><circle cx="-1.39" cy="-0.42" r="1" fill="#d46b12" stroke="#2a1408" stroke-width="1.1" vector-effect="non-scaling-stroke" clip-path="url(#u)"/><circle r="1" fill="none" stroke="#2a1408" stroke-width="1.6" vector-effect="non-scaling-stroke"/></g>
<g transform="translate(524.8 853.3) rotate(9.5) scale(1.9 11.8)"><circle r="1" fill="url(#gDH)"/><circle cx="-1.40" cy="-0.38" r="1" fill="#d46b12" stroke="#2a1408" stroke-width="1.1" vector-effect="non-scaling-stroke" clip-path="url(#u)"/><circle r="1" fill="none" stroke="#2a1408" stroke-width="1.6" vector-effect="non-scaling-stroke"/></g>
<g transform="translate(525.8 886.1) rotate(9.5) scale(1.9 11.8)"><circle r="1" fill="url(#gDH)"/><circle cx="-1.40" cy="-0.38" r="1" fill="#d46b12" stroke="#2a1408" stroke-width="1.1" vector-effect="non-scaling-stroke" clip-path="url(#u)"/><circle r="1" fill="none" stroke="#2a1408" stroke-width="1.6" vector-effect="non-scaling-stroke"/></g>
<g transform="translate(526.8 918.9) rotate(9.5) scale(1.9 11.8)"><circle r="1" fill="url(#gDH)"/><circle cx="-1.40" cy="-0.38" r="1" fill="#d46b12" stroke="#2a1408" stroke-width="1.1" vector-effect="non-scaling-stroke" clip-path="url(#u)"/><circle r="1" fill="none" stroke="#2a1408" stroke-width="1.6" vector-effect="non-scaling-stroke"/></g>
</g>
<g id="rotor" stroke-linejoin="round">
<polygon points="320.6,624.6 302.1,579.5 307.6,757.5 326.1,802.6" fill="#c2600c" stroke="#2a1408" stroke-width="1.6" stroke-linejoin="round" />
<polyline points="309.1,596.7 314.6,774.7" fill="none" stroke="#2a1408" stroke-width="1.3" stroke-linejoin="round" stroke-linecap="round" />
<polygon points="348.9,626 382.1,583.6 387.6,761.6 354.4,804" fill="#f2923e" stroke="#2a1408" stroke-width="1.6" stroke-linejoin="round" />
<polyline points="369.5,599.7 375,777.7" fill="none" stroke="#2a1408" stroke-width="1.3" stroke-linejoin="round" stroke-linecap="round" />
<polygon points="315.1,630.2 252,599.7 257.6,777.7 320.7,808.2" fill="#c2600c" stroke="#2a1408" stroke-width="1.6" stroke-linejoin="round" />
<polyline points="276,611.3 281.5,789.3" fill="none" stroke="#2a1408" stroke-width="1.3" stroke-linejoin="round" stroke-linecap="round" />
<polygon points="352.3,632.1 424.6,608.5 430.1,786.5 357.9,810.1" fill="#f2923e" stroke="#2a1408" stroke-width="1.6" stroke-linejoin="round" />
<polyline points="397.1,617.5 402.6,795.5" fill="none" stroke="#2a1408" stroke-width="1.3" stroke-linejoin="round" stroke-linecap="round" />
<polygon points="316.8,636.5 233.1,632.3 238.6,810.3 322.3,814.5" fill="#dc7b27" stroke="#2a1408" stroke-width="1.6" stroke-linejoin="round" />
<polyline points="264.9,633.9 270.4,811.9" fill="none" stroke="#2a1408" stroke-width="1.3" stroke-linejoin="round" stroke-linecap="round" />
<polygon points="348.6,638.2 432.3,642.4 437.8,820.4 354.1,816.2" fill="#dc7b27" stroke="#2a1408" stroke-width="1.6" stroke-linejoin="round" />
<polyline points="400.5,640.8 406,818.8" fill="none" stroke="#2a1408" stroke-width="1.3" stroke-linejoin="round" stroke-linecap="round" />
<polygon points="432.3,642.4 434.1,631.7 439.6,809.7 437.8,820.4" fill="#e98834" stroke="#2a1408" stroke-width="1.6" stroke-linejoin="round" />
<polygon points="324.8,641.1 252.6,664.7 258.1,842.7 330.3,819.1" fill="#f2923e" stroke="#2a1408" stroke-width="1.6" stroke-linejoin="round" />
<polyline points="280,655.7 285.6,833.7" fill="none" stroke="#2a1408" stroke-width="1.3" stroke-linejoin="round" stroke-linecap="round" />
<polygon points="242.6,655.5 252.6,664.7 258.1,842.7 248.2,833.5" fill="#c2600c" stroke="#2a1408" stroke-width="1.6" stroke-linejoin="round" />
<polygon points="339.2,641.8 402.3,672.3 407.8,850.3 344.7,819.8" fill="#c2600c" stroke="#2a1408" stroke-width="1.6" stroke-linejoin="round" />
<polyline points="378.3,660.7 383.8,838.7" fill="none" stroke="#2a1408" stroke-width="1.3" stroke-linejoin="round" stroke-linecap="round" />
<polygon points="402.3,672.3 415.2,664.3 420.7,842.3 407.8,850.3" fill="#f59541" stroke="#2a1408" stroke-width="1.6" stroke-linejoin="round" />
<polygon points="336.2,642.2 303,684.6 308.5,862.6 341.7,820.2" fill="#f2923e" stroke="#2a1408" stroke-width="1.6" stroke-linejoin="round" />
<polyline points="315.6,668.5 321.1,846.5" fill="none" stroke="#2a1408" stroke-width="1.3" stroke-linejoin="round" stroke-linecap="round" />
<polygon points="285.1,680.4 303,684.6 308.5,862.6 290.6,858.4" fill="#cd6c18" stroke="#2a1408" stroke-width="1.6" stroke-linejoin="round" />
<polygon points="327.6,641.8 346.1,686.8 351.6,864.8 333.1,819.8" fill="#c2600c" stroke="#2a1408" stroke-width="1.6" stroke-linejoin="round" />
<polyline points="339.1,669.7 344.6,847.7" fill="none" stroke="#2a1408" stroke-width="1.3" stroke-linejoin="round" stroke-linecap="round" />
<polygon points="346.1,686.8 365.1,684.5 370.6,862.5 351.6,864.8" fill="#e98935" stroke="#2a1408" stroke-width="1.6" stroke-linejoin="round" />
<polygon points="339.6,622.2 321.1,577.2 302.1,579.5 320.6,624.6" fill="#e0751a" stroke="#2a1408" stroke-width="1.6" stroke-linejoin="round" />
<polygon points="348.9,626 382.1,583.6 364.2,579.4 331,621.8" fill="#e0751a" stroke="#2a1408" stroke-width="1.6" stroke-linejoin="round" />
<polygon points="328,622.2 264.9,591.7 252,599.7 315.1,630.2" fill="#e0751a" stroke="#2a1408" stroke-width="1.6" stroke-linejoin="round" />
<polygon points="352.3,632.1 424.6,608.5 414.6,599.3 342.4,622.9" fill="#e0751a" stroke="#2a1408" stroke-width="1.6" stroke-linejoin="round" />
<polygon points="318.6,625.8 234.9,621.6 233.1,632.3 316.8,636.5" fill="#e0751a" stroke="#2a1408" stroke-width="1.6" stroke-linejoin="round" />
<polygon points="348.6,638.2 432.3,642.4 434.1,631.7 350.4,627.5" fill="#e0751a" stroke="#2a1408" stroke-width="1.6" stroke-linejoin="round" />
<polygon points="314.9,631.9 242.6,655.5 252.6,664.7 324.8,641.1" fill="#e0751a" stroke="#2a1408" stroke-width="1.6" stroke-linejoin="round" />
<polygon points="339.2,641.8 402.3,672.3 415.2,664.3 352.1,633.8" fill="#e0751a" stroke="#2a1408" stroke-width="1.6" stroke-linejoin="round" />
<polygon points="318.3,638 285.1,680.4 303,684.6 336.2,642.2" fill="#e0751a" stroke="#2a1408" stroke-width="1.6" stroke-linejoin="round" />
<polygon points="327.6,641.8 346.1,686.8 365.1,684.5 346.6,639.4" fill="#e0751a" stroke="#2a1408" stroke-width="1.6" stroke-linejoin="round" />
<ellipse cx="333.6" cy="632" rx="30" ry="16" fill="#e0751a"/>
<path d="M311.7 621 v11 a21.5 11 0 0 0 43 0 v-11z" fill="#74747c" stroke="#1c1c1c" stroke-width="1.3"/>
<ellipse cx="333.2" cy="621" rx="21.5" ry="11" fill="#7d7d84" stroke="#1c1c1c" stroke-width="1.3"/>
<ellipse cx="333.7" cy="620.5" rx="11.5" ry="6.3" fill="#6b6b71" stroke="#1c1c1c" stroke-width="1.3"/>
<path d="M324.2 618 h-4 v4.5 h3" fill="#6b6b71" stroke="#1c1c1c" stroke-width="1.1"/>
</g>
<g id="skirt">
<polygon points="152.5,272.8 129.7,299.9 111.2,322.7 87,351.2 65.6,378.3 55.6,402.5 47.1,428.1 45,432.4 49,435.5 53.5,438.1 48.5,438.8 50,444.3 51.9,449.9 54.1,455.3 56.6,460.7 59.5,466.1 62.7,471.3 66.2,476.5 70,481.7 74.1,486.7 78.5,491.6 83.3,496.5 88.3,501.2 93.6,505.8 99.2,510.3 105,514.7 111.2,519 117.6,523.1 124.2,527.1 131.1,530.9 138.2,534.6 145.5,538.2 153.1,541.5 160.9,544.8 168.8,547.8 177,550.7 185.3,553.4 193.9,556 202.5,558.4 211.3,560.5 220.3,562.5 229.4,564.4 238.6,566 247.9,567.4 257.2,568.7 266.7,569.7 276.3,570.6 285.9,571.3 295.5,571.7 305.2,572 314.9,572.1 324.6,571.9 334.3,571.6 344,571.1 353.7,570.4 363.4,569.5 372.9,568.4 382.5,567.1 391.9,565.6 401.3,563.9 410.6,562 419.8,560 428.9,557.7 437.8,555.3 446.6,552.7 455.3,550 463.7,547 472.1,543.9 480.2,540.7 488.2,537.2 495.9,533.7 503.4,529.9 510.8,526 517.9,522 524.7,517.9 531.3,513.6 537.7,509.2 543.8,504.6 549.6,500 555.2,495.2 560.5,490.3 565.5,485.4 570.2,480.3 574.5,475.2 578.6,470 582.4,464.7 585.9,459.3 589,453.9 591.9,448.4 594.4,442.9 596.5,437.3 598.4,431.7 599.9,426.1 601,420.5 601.9,414.8 602.3,409.2 596.5,405.6 602.6,399.2 584.7,371.1 565.6,346.9 533.7,313.7 501.9,284.4 478.9,262.7" fill="url(#gSkirt)" stroke="#2a1408" stroke-width="1.5" stroke-linejoin="round" />
<path d="M48.5 438.8 L50 444.3 L51.9 449.9 L54.1 455.3 L56.6 460.7 L59.5 466.1 L62.7 471.3 L66.2 476.5 L70 481.7 L74.1 486.7 L78.5 491.6 L83.3 496.5 L88.3 501.2 L93.6 505.8 L99.2 510.3 L105 514.7 L111.2 519 L117.6 523.1 L124.2 527.1 L131.1 530.9 L138.2 534.6 L145.5 538.2 L153.1 541.5 L160.9 544.8 L168.8 547.8 L177 550.7 L185.3 553.4 L193.9 556 L202.5 558.4 L211.3 560.5 L220.3 562.5 L229.4 564.4 L238.6 566 L247.9 567.4 L257.2 568.7 L266.7 569.7 L276.3 570.6 L285.9 571.3 L295.5 571.7 L305.2 572 L314.9 572.1 L324.6 571.9 L334.3 571.6 L344 571.1 L353.7 570.4 L363.4 569.5 L372.9 568.4 L382.5 567.1 L391.9 565.6 L401.3 563.9 L410.6 562 L419.8 560 L428.9 557.7 L437.8 555.3 L446.6 552.7 L455.3 550 L463.7 547 L472.1 543.9 L480.2 540.7 L488.2 537.2 L495.9 533.7 L503.4 529.9 L510.8 526 L517.9 522 L524.7 517.9 L531.3 513.6 L537.7 509.2 L543.8 504.6 L549.6 500 L555.2 495.2 L560.5 490.3 L565.5 485.4 L570.2 480.3 L574.5 475.2 L578.6 470 L582.4 464.7 L585.9 459.3 L589 453.9 L591.9 448.4 L594.4 442.9 L596.5 437.3 L598.4 431.7 L599.9 426.1 L601 420.5 L601.9 414.8 L602.3 409.2 L513.9 325.4 L513.6 329 L513 332.7 L512.2 336.4 L511.1 340 L509.9 343.7 L508.4 347.3 L506.6 350.9 L504.7 354.5 L502.5 358 L500.1 361.5 L497.5 364.9 L494.7 368.3 L491.7 371.7 L488.4 375 L485 378.2 L481.3 381.4 L477.5 384.5 L473.5 387.5 L469.3 390.4 L464.9 393.3 L460.3 396.1 L455.6 398.8 L450.7 401.5 L445.7 404 L440.5 406.4 L435.2 408.8 L429.7 411 L424.1 413.1 L418.3 415.2 L412.5 417.1 L406.5 418.9 L400.5 420.6 L394.3 422.2 L388.1 423.6 L381.8 425 L375.4 426.2 L368.9 427.3 L362.4 428.3 L355.8 429.2 L349.2 429.9 L342.6 430.5 L335.9 431 L329.2 431.3 L322.5 431.5 L315.9 431.6 L309.2 431.6 L302.5 431.4 L295.9 431.1 L289.3 430.7 L282.7 430.2 L276.2 429.5 L269.7 428.7 L263.3 427.8 L257 426.7 L250.8 425.6 L244.6 424.3 L238.5 422.9 L232.6 421.3 L226.7 419.7 L221 417.9 L215.4 416.1 L209.9 414.1 L204.5 412 L199.3 409.8 L194.3 407.5 L189.4 405.1 L184.7 402.6 L180.1 400 L175.7 397.4 L171.5 394.6 L167.5 391.8 L163.6 388.8 L160 385.9 L156.5 382.8 L153.3 379.6 L150.2 376.4 L147.4 373.2 L144.8 369.8 L142.4 366.5 L140.2 363 L138.2 359.6 L136.5 356.1 L135 352.5 L133.7 348.9 L132.7 345.3Z" fill="url(#gSkirtV)"/>
<clipPath id="cs0"><polygon points="129.7,299.9 111.2,322.7 87,351.2 65.6,378.3 55.6,402.5 47.1,428.1 45,432.4 45.7,431.5 115.5,337.7"/></clipPath>
<polygon points="129.7,299.9 111.2,322.7 87,351.2 65.6,378.3 55.6,402.5 47.1,428.1 45,432.4 45.7,431.5 115.5,337.7" fill="#d9741c" stroke="#2a1408" stroke-width="1.2" stroke-linejoin="round" />
<g clip-path="url(#cs0)"><path d="M129.8 315.8L127.5 318.9" stroke="#1e0d04" stroke-width="2.5"/><path d="M126.2 320.6L124.2 323.4" stroke="#2a1206" stroke-width="2.5"/><path d="M123.5 324.2L120.5 328.4" stroke="#1e0d04" stroke-width="2.5"/><path d="M119.4 329.8L117.4 332.4" stroke="#2a1206" stroke-width="2.5"/><path d="M116.3 333.9L112.8 338.7" stroke="#1e0d04" stroke-width="2.5"/><path d="M112.1 339.5L109.7 342.8" stroke="#2a1206" stroke-width="2.5"/><path d="M108.9 344L106.6 346.9" stroke="#3a1a08" stroke-width="2.5"/><path d="M105.6 348.4L101.7 353.5" stroke="#2a1206" stroke-width="2.5"/><path d="M100.8 354.7L97.4 359.3" stroke="#1e0d04" stroke-width="2.5"/><path d="M96.3 360.8L93 365.2" stroke="#3a1a08" stroke-width="2.5"/><path d="M92 366.6L87.5 372.7" stroke="#2a1206" stroke-width="2.5"/><path d="M86.2 374.4L82.3 379.6" stroke="#3a1a08" stroke-width="2.5"/><path d="M81.3 381L76.9 386.9" stroke="#3a1a08" stroke-width="2.5"/><path d="M75.8 388.4L73.8 391.1" stroke="#2a1206" stroke-width="2.5"/><path d="M72.6 392.7L70.3 395.7" stroke="#1e0d04" stroke-width="2.5"/><path d="M68.9 397.6L66.9 400.3" stroke="#3a1a08" stroke-width="2.5"/><path d="M66 401.5L63.2 405.3" stroke="#1e0d04" stroke-width="2.5"/><path d="M62.5 406.2L60.5 409" stroke="#1e0d04" stroke-width="2.5"/><path d="M59.8 409.9L55.9 415.1" stroke="#1e0d04" stroke-width="2.5"/><path d="M55.1 416.2L52.1 420.2" stroke="#1e0d04" stroke-width="2.5"/><path d="M50.8 422L47.9 425.9" stroke="#1e0d04" stroke-width="2.5"/><path d="M47.3 426.7L43.2 432.2" stroke="#2a1206" stroke-width="2.5"/><path d="M125.6 317.2L122.4 321.6" stroke="#1e0d04" stroke-width="2.5"/><path d="M121.3 323L116.9 329" stroke="#3a1a08" stroke-width="2.5"/><path d="M115.7 330.6L111 336.9" stroke="#1e0d04" stroke-width="2.5"/><path d="M109.6 338.8L107.3 341.8" stroke="#2a1206" stroke-width="2.5"/><path d="M106.2 343.4L104.3 345.8" stroke="#2a1206" stroke-width="2.5"/><path d="M103.5 346.9L101.7 349.3" stroke="#3a1a08" stroke-width="2.5"/><path d="M100.6 350.8L97.9 354.5" stroke="#1e0d04" stroke-width="2.5"/><path d="M91.3 363.3L87.9 367.9" stroke="#1e0d04" stroke-width="2.5"/><path d="M87.2 368.9L83.5 373.8" stroke="#1e0d04" stroke-width="2.5"/><path d="M82.1 375.7L79 379.9" stroke="#1e0d04" stroke-width="2.5"/><path d="M78.3 380.8L74.8 385.5" stroke="#3a1a08" stroke-width="2.5"/><path d="M73.7 387L71.7 389.7" stroke="#1e0d04" stroke-width="2.5"/><path d="M71 390.6L68.5 394.1" stroke="#3a1a08" stroke-width="2.5"/><path d="M67.5 395.4L65.3 398.3" stroke="#1e0d04" stroke-width="2.5"/><path d="M64.3 399.6L61.6 403.3" stroke="#3a1a08" stroke-width="2.5"/><path d="M60.4 404.9L57.2 409.2" stroke="#1e0d04" stroke-width="2.5"/><path d="M56.4 410.3L51.8 416.5" stroke="#1e0d04" stroke-width="2.5"/><path d="M50.5 418.1L47.9 421.7" stroke="#1e0d04" stroke-width="2.5"/><path d="M46.7 423.3L44.1 426.8" stroke="#2a1206" stroke-width="2.5"/><path d="M43.2 428L40.8 431.3" stroke="#3a1a08" stroke-width="2.5"/><path d="M124.7 314.2L120.6 319.8" stroke="#2a1206" stroke-width="2.5"/><path d="M119.3 321.5L115.1 327.2" stroke="#2a1206" stroke-width="2.5"/><path d="M114.3 328.2L111 332.6" stroke="#1e0d04" stroke-width="2.5"/><path d="M109.8 334.3L106.6 338.6" stroke="#3a1a08" stroke-width="2.5"/><path d="M99.6 348L96.8 351.8" stroke="#2a1206" stroke-width="2.5"/><path d="M95.8 353.2L93 356.9" stroke="#1e0d04" stroke-width="2.5"/><path d="M92 358.3L88.2 363.3" stroke="#1e0d04" stroke-width="2.5"/><path d="M86.9 365L84.8 367.9" stroke="#2a1206" stroke-width="2.5"/><path d="M83.8 369.3L81.5 372.4" stroke="#3a1a08" stroke-width="2.5"/><path d="M80.8 373.3L76.2 379.5" stroke="#1e0d04" stroke-width="2.5"/><path d="M75.3 380.7L70.6 386.9" stroke="#2a1206" stroke-width="2.5"/><path d="M69.2 388.9L67.3 391.4" stroke="#1e0d04" stroke-width="2.5"/><path d="M66.1 393.1L63.8 396.1" stroke="#1e0d04" stroke-width="2.5"/><path d="M62.7 397.6L59.9 401.4" stroke="#2a1206" stroke-width="2.5"/><path d="M59.2 402.3L55.1 407.9" stroke="#1e0d04" stroke-width="2.5"/><path d="M54 409.3L49.4 415.4" stroke="#2a1206" stroke-width="2.5"/><path d="M48.2 417.1L45.7 420.4" stroke="#3a1a08" stroke-width="2.5"/><path d="M44.7 421.8L40.7 427.2" stroke="#1e0d04" stroke-width="2.5"/><path d="M124.7 310.1L120.7 315.5" stroke="#1e0d04" stroke-width="2.5"/><path d="M119.4 317.2L115 323.1" stroke="#2a1206" stroke-width="2.5"/><path d="M114 324.5L112.1 327" stroke="#2a1206" stroke-width="2.5"/><path d="M111 328.5L106.9 334" stroke="#2a1206" stroke-width="2.5"/><path d="M105.9 335.3L102 340.7" stroke="#3a1a08" stroke-width="2.5"/><path d="M100.8 342.2L97.4 346.8" stroke="#1e0d04" stroke-width="2.5"/><path d="M96.1 348.6L94.1 351.2" stroke="#1e0d04" stroke-width="2.5"/><path d="M92.9 352.9L89.6 357.3" stroke="#1e0d04" stroke-width="2.5"/><path d="M88.6 358.6L85 363.5" stroke="#2a1206" stroke-width="2.5"/><path d="M83.8 365.1L80.7 369.3" stroke="#1e0d04" stroke-width="2.5"/><path d="M79.6 370.6L77.1 374" stroke="#3a1a08" stroke-width="2.5"/><path d="M75.7 375.9L71.3 381.9" stroke="#1e0d04" stroke-width="2.5"/><path d="M70.6 382.8L68.4 385.7" stroke="#1e0d04" stroke-width="2.5"/><path d="M67.3 387.3L64.2 391.4" stroke="#3a1a08" stroke-width="2.5"/><path d="M62.9 393.1L58.5 399.1" stroke="#3a1a08" stroke-width="2.5"/><path d="M52.6 407.1L47.9 413.3" stroke="#1e0d04" stroke-width="2.5"/><path d="M47.2 414.3L43.4 419.3" stroke="#1e0d04" stroke-width="2.5"/><path d="M42 421.3L39 425.3" stroke="#3a1a08" stroke-width="2.5"/><path d="M120.3 311.8L118.5 314.3" stroke="#1e0d04" stroke-width="2.5"/><path d="M117.3 315.9L114.4 319.8" stroke="#3a1a08" stroke-width="2.5"/><path d="M110.1 325.5L105.4 331.8" stroke="#3a1a08" stroke-width="2.5"/><path d="M104.6 333L100.1 339" stroke="#2a1206" stroke-width="2.5"/><path d="M98.8 340.7L94.5 346.5" stroke="#3a1a08" stroke-width="2.5"/><path d="M93.5 347.8L90.1 352.4" stroke="#1e0d04" stroke-width="2.5"/><path d="M89 353.9L86.9 356.7" stroke="#2a1206" stroke-width="2.5"/><path d="M82.8 362.2L78.6 367.8" stroke="#2a1206" stroke-width="2.5"/><path d="M78 368.7L73.6 374.6" stroke="#3a1a08" stroke-width="2.5"/><path d="M68 382.1L66.1 384.6" stroke="#1e0d04" stroke-width="2.5"/><path d="M64.7 386.5L62.1 390" stroke="#3a1a08" stroke-width="2.5"/><path d="M61 391.5L57.6 396" stroke="#1e0d04" stroke-width="2.5"/><path d="M56.6 397.4L54.3 400.5" stroke="#1e0d04" stroke-width="2.5"/><path d="M52.9 402.4L51 405" stroke="#2a1206" stroke-width="2.5"/><path d="M49.9 406.4L47.4 409.8" stroke="#1e0d04" stroke-width="2.5"/><path d="M46.3 411.3L42.8 415.9" stroke="#3a1a08" stroke-width="2.5"/><path d="M41.7 417.5L36.9 423.8" stroke="#2a1206" stroke-width="2.5"/></g>
<polyline points="129.7,299.9 111.2,322.7 87,351.2 65.6,378.3 55.6,402.5 47.1,428.1 45,432.4" fill="none" stroke="#2a1408" stroke-width="1.2" stroke-linejoin="round" stroke-linecap="round" />
<clipPath id="cs1"><polygon points="501.9,284.4 533.7,313.7 565.6,346.9 584.7,371.1 602.6,399.2 522,313"/></clipPath>
<polygon points="501.9,284.4 533.7,313.7 565.6,346.9 584.7,371.1 602.6,399.2 522,313" fill="#d9741c" stroke="#2a1408" stroke-width="1.2" stroke-linejoin="round" />
<g clip-path="url(#cs1)"><path d="M505.5 293L507.7 295.4" stroke="#1e0d04" stroke-width="2.5"/><path d="M509 296.7L514 302.1" stroke="#1e0d04" stroke-width="2.5"/><path d="M514.8 303L519.7 308.2" stroke="#3a1a08" stroke-width="2.5"/><path d="M521 309.6L525.4 314.3" stroke="#2a1206" stroke-width="2.5"/><path d="M526.2 315.2L529.8 319" stroke="#3a1a08" stroke-width="2.5"/><path d="M531.4 320.7L535.3 324.9" stroke="#3a1a08" stroke-width="2.5"/><path d="M536.2 325.9L538.9 328.7" stroke="#1e0d04" stroke-width="2.5"/><path d="M540 329.9L543.8 334" stroke="#1e0d04" stroke-width="2.5"/><path d="M544.6 334.8L549.4 340" stroke="#1e0d04" stroke-width="2.5"/><path d="M550.5 341.1L553.5 344.4" stroke="#1e0d04" stroke-width="2.5"/><path d="M554.8 345.7L558.6 349.8" stroke="#1e0d04" stroke-width="2.5"/><path d="M560.1 351.4L564.6 356.2" stroke="#3a1a08" stroke-width="2.5"/><path d="M565.9 357.6L570.2 362.2" stroke="#1e0d04" stroke-width="2.5"/><path d="M571.6 363.7L576.4 368.8" stroke="#1e0d04" stroke-width="2.5"/><path d="M577.9 370.4L581.9 374.7" stroke="#2a1206" stroke-width="2.5"/><path d="M582.7 375.5L584.9 377.9" stroke="#1e0d04" stroke-width="2.5"/><path d="M585.9 379L589.5 382.8" stroke="#1e0d04" stroke-width="2.5"/><path d="M590.8 384.2L595.2 388.9" stroke="#1e0d04" stroke-width="2.5"/><path d="M600.1 394.2L602.5 396.7" stroke="#1e0d04" stroke-width="2.5"/><path d="M603.4 397.7L605.7 400.2" stroke="#2a1206" stroke-width="2.5"/><path d="M508.5 292.6L512.2 296.5" stroke="#1e0d04" stroke-width="2.5"/><path d="M513.3 297.7L517.7 302.4" stroke="#2a1206" stroke-width="2.5"/><path d="M518.4 303.2L521 305.9" stroke="#3a1a08" stroke-width="2.5"/><path d="M522.3 307.3L524.8 310" stroke="#1e0d04" stroke-width="2.5"/><path d="M525.7 311L530.1 315.6" stroke="#1e0d04" stroke-width="2.5"/><path d="M531 316.6L534.8 320.7" stroke="#1e0d04" stroke-width="2.5"/><path d="M536.2 322.2L541.7 328.1" stroke="#3a1a08" stroke-width="2.5"/><path d="M543.3 329.8L548.6 335.4" stroke="#1e0d04" stroke-width="2.5"/><path d="M559.7 347.3L562 349.7" stroke="#3a1a08" stroke-width="2.5"/><path d="M563.6 351.4L566.1 354.1" stroke="#3a1a08" stroke-width="2.5"/><path d="M567.6 355.8L572 360.5" stroke="#1e0d04" stroke-width="2.5"/><path d="M577 365.9L580.5 369.5" stroke="#1e0d04" stroke-width="2.5"/><path d="M581.5 370.6L584.6 374" stroke="#1e0d04" stroke-width="2.5"/><path d="M585.6 375L588.8 378.4" stroke="#2a1206" stroke-width="2.5"/><path d="M590.2 379.9L595.3 385.4" stroke="#3a1a08" stroke-width="2.5"/><path d="M596 386.2L599.4 389.8" stroke="#1e0d04" stroke-width="2.5"/><path d="M600.4 390.9L604 394.6" stroke="#1e0d04" stroke-width="2.5"/><path d="M604.9 395.7L607.1 398" stroke="#2a1206" stroke-width="2.5"/><path d="M508.8 289.2L512.6 293.3" stroke="#3a1a08" stroke-width="2.5"/><path d="M514 294.8L517.5 298.5" stroke="#1e0d04" stroke-width="2.5"/><path d="M519.1 300.2L524.3 305.8" stroke="#1e0d04" stroke-width="2.5"/><path d="M525.1 306.6L529.6 311.5" stroke="#2a1206" stroke-width="2.5"/><path d="M530.9 312.9L533.9 316.1" stroke="#2a1206" stroke-width="2.5"/><path d="M534.8 317L538.3 320.7" stroke="#3a1a08" stroke-width="2.5"/><path d="M539.6 322.2L545 328" stroke="#2a1206" stroke-width="2.5"/><path d="M546 329L550 333.2" stroke="#2a1206" stroke-width="2.5"/><path d="M551.3 334.6L553.6 337.1" stroke="#1e0d04" stroke-width="2.5"/><path d="M554.8 338.4L558.4 342.2" stroke="#1e0d04" stroke-width="2.5"/><path d="M559.5 343.4L563.4 347.6" stroke="#2a1206" stroke-width="2.5"/><path d="M564.4 348.7L566.7 351.2" stroke="#3a1a08" stroke-width="2.5"/><path d="M568.2 352.7L570.9 355.7" stroke="#1e0d04" stroke-width="2.5"/><path d="M572 356.8L576.6 361.7" stroke="#3a1a08" stroke-width="2.5"/><path d="M577.6 362.8L579.9 365.2" stroke="#3a1a08" stroke-width="2.5"/><path d="M580.7 366.1L584.4 370.1" stroke="#2a1206" stroke-width="2.5"/><path d="M585.2 370.9L590.3 376.4" stroke="#1e0d04" stroke-width="2.5"/><path d="M591.4 377.6L594.5 380.9" stroke="#1e0d04" stroke-width="2.5"/><path d="M595.3 381.8L598.8 385.5" stroke="#1e0d04" stroke-width="2.5"/><path d="M600.4 387.2L604.2 391.2" stroke="#1e0d04" stroke-width="2.5"/><path d="M605.8 392.9L608.7 396" stroke="#2a1206" stroke-width="2.5"/><path d="M513.5 290.6L515.9 293.2" stroke="#1e0d04" stroke-width="2.5"/><path d="M516.7 294L521.4 299" stroke="#2a1206" stroke-width="2.5"/><path d="M522.3 300L527.5 305.5" stroke="#3a1a08" stroke-width="2.5"/><path d="M529.1 307.3L533.3 311.7" stroke="#1e0d04" stroke-width="2.5"/><path d="M534.6 313.2L537.1 315.8" stroke="#2a1206" stroke-width="2.5"/><path d="M538.1 316.9L540.9 319.9" stroke="#1e0d04" stroke-width="2.5"/><path d="M542.1 321.2L547.6 327" stroke="#3a1a08" stroke-width="2.5"/><path d="M548.9 328.4L553.9 333.8" stroke="#2a1206" stroke-width="2.5"/><path d="M555.2 335.1L557.3 337.4" stroke="#3a1a08" stroke-width="2.5"/><path d="M558 338.2L560.7 341.1" stroke="#1e0d04" stroke-width="2.5"/><path d="M561.5 341.9L564.3 345" stroke="#3a1a08" stroke-width="2.5"/><path d="M565.2 345.9L567.4 348.2" stroke="#1e0d04" stroke-width="2.5"/><path d="M568.4 349.3L571.8 353" stroke="#3a1a08" stroke-width="2.5"/><path d="M573.2 354.5L577 358.5" stroke="#2a1206" stroke-width="2.5"/><path d="M578 359.5L582.8 364.7" stroke="#2a1206" stroke-width="2.5"/><path d="M583.8 365.7L588.8 371.2" stroke="#1e0d04" stroke-width="2.5"/><path d="M590.1 372.5L595.2 378" stroke="#1e0d04" stroke-width="2.5"/><path d="M596.8 379.7L599.4 382.4" stroke="#2a1206" stroke-width="2.5"/><path d="M600.1 383.2L604.2 387.5" stroke="#1e0d04" stroke-width="2.5"/><path d="M605 388.5L608.6 392.3" stroke="#3a1a08" stroke-width="2.5"/><path d="M515.4 289L520.7 294.6" stroke="#2a1206" stroke-width="2.5"/><path d="M522 296L525.8 300.1" stroke="#3a1a08" stroke-width="2.5"/><path d="M527.1 301.5L530.5 305.1" stroke="#3a1a08" stroke-width="2.5"/><path d="M531.6 306.3L534 308.9" stroke="#1e0d04" stroke-width="2.5"/><path d="M535 309.9L540.3 315.6" stroke="#2a1206" stroke-width="2.5"/><path d="M541.4 316.7L546.1 321.7" stroke="#1e0d04" stroke-width="2.5"/><path d="M546.8 322.6L551.3 327.3" stroke="#1e0d04" stroke-width="2.5"/><path d="M552.1 328.3L555.4 331.8" stroke="#1e0d04" stroke-width="2.5"/><path d="M556.7 333.2L559.6 336.3" stroke="#1e0d04" stroke-width="2.5"/><path d="M560.3 337L562.5 339.3" stroke="#1e0d04" stroke-width="2.5"/><path d="M563.4 340.3L568 345.3" stroke="#3a1a08" stroke-width="2.5"/><path d="M573 350.5L577.6 355.5" stroke="#3a1a08" stroke-width="2.5"/><path d="M578.6 356.5L583.1 361.3" stroke="#1e0d04" stroke-width="2.5"/><path d="M583.8 362.1L586.6 365.1" stroke="#1e0d04" stroke-width="2.5"/><path d="M588.2 366.8L591.6 370.4" stroke="#1e0d04" stroke-width="2.5"/><path d="M593 372L595.5 374.7" stroke="#1e0d04" stroke-width="2.5"/><path d="M597 376.2L601.6 381.1" stroke="#2a1206" stroke-width="2.5"/><path d="M602.8 382.5L606 385.9" stroke="#3a1a08" stroke-width="2.5"/><path d="M607.4 387.4L611.5 391.8" stroke="#1e0d04" stroke-width="2.5"/></g>
<polyline points="501.9,284.4 533.7,313.7 565.6,346.9 584.7,371.1 602.6,399.2" fill="none" stroke="#2a1408" stroke-width="1.2" stroke-linejoin="round" stroke-linecap="round" />
<ellipse cx="322.4" cy="327.5" rx="191.7" ry="105.3" transform="rotate(-1.9 322.4 327.5)" fill="#e87b1c" stroke="#2a1408" stroke-width="1.5" />
<ellipse cx="322" cy="327.9" rx="183.5" ry="100.8" transform="rotate(-1.9 322 327.9)" fill="#e27619" stroke="#7a3c0c" stroke-width="0.9" />
<ellipse cx="321.5" cy="328.4" rx="174" ry="95.4" transform="rotate(-1.9 321.5 328.4)" fill="url(#gFlangeS)" stroke="#1c1c1c" stroke-width="1.3" />
<ellipse cx="159" cy="341.5" rx="3.4" ry="2.2" fill="#5e5e63" stroke="#19191b" stroke-width="1.5"/>
<ellipse cx="215" cy="400" rx="3.4" ry="2.2" fill="#5e5e63" stroke="#19191b" stroke-width="1.5"/>
<ellipse cx="332.5" cy="419" rx="3.4" ry="2.2" fill="#5e5e63" stroke="#19191b" stroke-width="1.5"/>
<ellipse cx="442.5" cy="387.5" rx="3.4" ry="2.2" fill="#5e5e63" stroke="#19191b" stroke-width="1.5"/>
<ellipse cx="482.5" cy="324" rx="3.4" ry="2.2" fill="#5e5e63" stroke="#19191b" stroke-width="1.5"/>
<polygon points="115.5,337.7 45.7,431.5 53.5,438.1 128.3,338.4" fill="#e57a1d" stroke="#2a1408" stroke-width="1.4" stroke-linejoin="round" />
<polyline points="121.2,339.8 49.5,434.5" fill="none" stroke="#2a1408" stroke-width="1.2" stroke-linejoin="round" stroke-linecap="round" />
<circle cx="117.4" cy="348.8" r="1.3" fill="#2b1407"/>
<circle cx="105.7" cy="364.4" r="1.3" fill="#2b1407"/>
<circle cx="94" cy="379.9" r="1.3" fill="#2b1407"/>
<circle cx="82.3" cy="395.5" r="1.3" fill="#2b1407"/>
<circle cx="70.5" cy="411" r="1.3" fill="#2b1407"/>
<circle cx="58.8" cy="426.6" r="1.3" fill="#2b1407"/>
<polygon points="514.6,320.8 596.5,405.6 602.6,399.2 522,313" fill="#e57a1d" stroke="#2a1408" stroke-width="1.4" stroke-linejoin="round" />
<polyline points="518.5,317 599.5,402.5" fill="none" stroke="#2a1408" stroke-width="1.2" stroke-linejoin="round" stroke-linecap="round" />
<circle cx="528.3" cy="323.6" r="1.3" fill="#2b1407"/>
<circle cx="541.3" cy="337.3" r="1.3" fill="#2b1407"/>
<circle cx="554.2" cy="351.1" r="1.3" fill="#2b1407"/>
<circle cx="567.1" cy="364.8" r="1.3" fill="#2b1407"/>
<circle cx="580" cy="378.5" r="1.3" fill="#2b1407"/>
<circle cx="593" cy="392.3" r="1.3" fill="#2b1407"/>
<polygon points="186.5,410.3 139.3,535.3 146.8,538.6 196,412.4" fill="#e87d20" stroke="#2a1408" stroke-width="1.4" stroke-linejoin="round" />
<polygon points="186.5,410.3 139.3,535.3 143.2,537 191,411.4" fill="#d56c12" stroke="#2a1408" stroke-width="1.2" stroke-linejoin="round" />
<circle cx="184" cy="423.4" r="1.2" fill="#2b1407"/>
<circle cx="176.4" cy="443.4" r="1.2" fill="#2b1407"/>
<circle cx="168.8" cy="463.5" r="1.2" fill="#2b1407"/>
<circle cx="161.2" cy="483.5" r="1.2" fill="#2b1407"/>
<circle cx="153.6" cy="503.6" r="1.2" fill="#2b1407"/>
<circle cx="146" cy="523.6" r="1.2" fill="#2b1407"/>
<polygon points="332.1,433 339.9,569.4 347.1,568.9 339.5,433" fill="#e87d20" stroke="#2a1408" stroke-width="1.4" stroke-linejoin="round" />
<polygon points="332.7,433 338.9,433 339.1,438 332.9,438" fill="#d97014" stroke="#2a1408" stroke-width="0.8" stroke-linejoin="round" />
<polygon points="465.7,394.1 526,516 535.5,509 478.5,397" fill="#e87d20" stroke="#2a1408" stroke-width="1.4" stroke-linejoin="round" />
<polygon points="465.7,394.1 526,516 530.3,513.5 470.5,393.3" fill="#d56c12" stroke="#2a1408" stroke-width="1.2" stroke-linejoin="round" />
<circle cx="474.1" cy="405.8" r="1.2" fill="#2b1407"/>
<circle cx="483.7" cy="425.2" r="1.2" fill="#2b1407"/>
<circle cx="493.3" cy="444.5" r="1.2" fill="#2b1407"/>
<circle cx="502.9" cy="463.9" r="1.2" fill="#2b1407"/>
<circle cx="512.5" cy="483.3" r="1.2" fill="#2b1407"/>
<circle cx="522.1" cy="502.6" r="1.2" fill="#2b1407"/>
<g transform="matrix(1.35 3.00 -3.52 4.24 119 376.9)"><circle r="1" fill="#ec8429"/><circle r="1" fill="none" stroke="#2a1408" stroke-width="1.5" vector-effect="non-scaling-stroke"/></g>
<g transform="matrix(1.94 2.89 -3.40 4.49 125.4 389.6)"><circle r="1" fill="#ec8429"/><circle cx="1.61" cy="-0.45" r="0.95" fill="#f4f4f4" stroke="#2a1408" stroke-width="1.2" vector-effect="non-scaling-stroke" clip-path="url(#u)"/><circle r="1" fill="none" stroke="#2a1408" stroke-width="1.5" vector-effect="non-scaling-stroke"/></g>
<g transform="matrix(2.51 2.74 -3.24 4.74 134.6 401.6)"><circle r="1" fill="#ec8429"/><circle cx="1.38" cy="-0.31" r="0.95" fill="#f4f4f4" stroke="#2a1408" stroke-width="1.2" vector-effect="non-scaling-stroke" clip-path="url(#u)"/><circle r="1" fill="none" stroke="#2a1408" stroke-width="1.5" vector-effect="non-scaling-stroke"/></g>
<g transform="matrix(3.05 2.55 -3.03 4.96 146.3 412.4)"><circle r="1" fill="#ec8429"/><circle cx="1.19" cy="-0.19" r="0.95" fill="#f4f4f4" stroke="#2a1408" stroke-width="1.2" vector-effect="non-scaling-stroke" clip-path="url(#u)"/><circle r="1" fill="none" stroke="#2a1408" stroke-width="1.5" vector-effect="non-scaling-stroke"/></g>
<g transform="matrix(3.55 2.34 -2.79 5.18 160.4 422)"><circle r="1" fill="#ec8429"/><circle cx="1.01" cy="-0.10" r="0.95" fill="#f4f4f4" stroke="#2a1408" stroke-width="1.2" vector-effect="non-scaling-stroke" clip-path="url(#u)"/><circle r="1" fill="none" stroke="#2a1408" stroke-width="1.5" vector-effect="non-scaling-stroke"/></g>
<g transform="matrix(1.07 3.07 -3.57 4.12 108.6 380.4)"><circle r="1" fill="#ec8429"/><circle r="1" fill="none" stroke="#2a1408" stroke-width="1.5" vector-effect="non-scaling-stroke"/></g>
<g transform="matrix(1.67 2.97 -3.46 4.38 114 394.1)"><circle r="1" fill="#ec8429"/><circle cx="1.72" cy="-0.54" r="0.95" fill="#f4f4f4" stroke="#2a1408" stroke-width="1.2" vector-effect="non-scaling-stroke" clip-path="url(#u)"/><circle r="1" fill="none" stroke="#2a1408" stroke-width="1.5" vector-effect="non-scaling-stroke"/></g>
<g transform="matrix(2.25 2.83 -3.32 4.63 122.3 407)"><circle r="1" fill="#ec8429"/><circle cx="1.48" cy="-0.37" r="0.95" fill="#f4f4f4" stroke="#2a1408" stroke-width="1.2" vector-effect="non-scaling-stroke" clip-path="url(#u)"/><circle r="1" fill="none" stroke="#2a1408" stroke-width="1.5" vector-effect="non-scaling-stroke"/></g>
<g transform="matrix(2.81 2.66 -3.13 4.86 133.3 418.9)"><circle r="1" fill="#ec8429"/><circle cx="1.27" cy="-0.24" r="0.95" fill="#f4f4f4" stroke="#2a1408" stroke-width="1.2" vector-effect="non-scaling-stroke" clip-path="url(#u)"/><circle r="1" fill="none" stroke="#2a1408" stroke-width="1.5" vector-effect="non-scaling-stroke"/></g>
<g transform="matrix(3.33 2.46 -2.90 5.08 146.8 429.7)"><circle r="1" fill="#ec8429"/><circle cx="1.09" cy="-0.14" r="0.95" fill="#f4f4f4" stroke="#2a1408" stroke-width="1.2" vector-effect="non-scaling-stroke" clip-path="url(#u)"/><circle r="1" fill="none" stroke="#2a1408" stroke-width="1.5" vector-effect="non-scaling-stroke"/></g>
<g transform="matrix(3.80 2.22 -2.64 5.28 162.7 439.1)"><circle r="1" fill="#ec8429"/><circle cx="0.93" cy="-0.07" r="0.95" fill="#f4f4f4" stroke="#2a1408" stroke-width="1.2" vector-effect="non-scaling-stroke" clip-path="url(#u)"/><circle r="1" fill="none" stroke="#2a1408" stroke-width="1.5" vector-effect="non-scaling-stroke"/></g>
<g transform="matrix(1.40 3.04 -3.52 4.26 103.5 397.2)"><circle r="1" fill="#ec8429"/><circle r="1" fill="none" stroke="#2a1408" stroke-width="1.5" vector-effect="non-scaling-stroke"/></g>
<g transform="matrix(1.99 2.92 -3.39 4.51 110.7 411.1)"><circle r="1" fill="#ec8429"/><circle cx="1.58" cy="-0.45" r="0.95" fill="#f4f4f4" stroke="#2a1408" stroke-width="1.2" vector-effect="non-scaling-stroke" clip-path="url(#u)"/><circle r="1" fill="none" stroke="#2a1408" stroke-width="1.5" vector-effect="non-scaling-stroke"/></g>
<g transform="matrix(2.56 2.76 -3.22 4.75 120.8 424)"><circle r="1" fill="#ec8429"/><circle cx="1.36" cy="-0.30" r="0.95" fill="#f4f4f4" stroke="#2a1408" stroke-width="1.2" vector-effect="non-scaling-stroke" clip-path="url(#u)"/><circle r="1" fill="none" stroke="#2a1408" stroke-width="1.5" vector-effect="non-scaling-stroke"/></g>
<g transform="matrix(3.09 2.57 -3.01 4.98 133.7 435.9)"><circle r="1" fill="#ec8429"/><circle cx="1.17" cy="-0.19" r="0.95" fill="#f4f4f4" stroke="#2a1408" stroke-width="1.2" vector-effect="non-scaling-stroke" clip-path="url(#u)"/><circle r="1" fill="none" stroke="#2a1408" stroke-width="1.5" vector-effect="non-scaling-stroke"/></g>
<g transform="matrix(3.59 2.35 -2.77 5.19 149 446.4)"><circle r="1" fill="#ec8429"/><circle cx="1.00" cy="-0.10" r="0.95" fill="#f4f4f4" stroke="#2a1408" stroke-width="1.2" vector-effect="non-scaling-stroke" clip-path="url(#u)"/><circle r="1" fill="none" stroke="#2a1408" stroke-width="1.5" vector-effect="non-scaling-stroke"/></g>
<g transform="matrix(1.12 3.09 -3.56 4.14 94.4 398.4)"><circle r="1" fill="#ec8429"/><circle r="1" fill="none" stroke="#2a1408" stroke-width="1.5" vector-effect="non-scaling-stroke"/></g>
<g transform="matrix(1.72 2.99 -3.45 4.40 100.5 413.1)"><circle r="1" fill="#ec8429"/><circle cx="1.69" cy="-0.53" r="0.95" fill="#f4f4f4" stroke="#2a1408" stroke-width="1.2" vector-effect="non-scaling-stroke" clip-path="url(#u)"/><circle r="1" fill="none" stroke="#2a1408" stroke-width="1.5" vector-effect="non-scaling-stroke"/></g>
<g transform="matrix(2.30 2.85 -3.30 4.64 109.6 427)"><circle r="1" fill="#ec8429"/><circle cx="1.45" cy="-0.37" r="0.95" fill="#f4f4f4" stroke="#2a1408" stroke-width="1.2" vector-effect="non-scaling-stroke" clip-path="url(#u)"/><circle r="1" fill="none" stroke="#2a1408" stroke-width="1.5" vector-effect="non-scaling-stroke"/></g>
<g transform="matrix(2.85 2.68 -3.11 4.88 121.5 439.8)"><circle r="1" fill="#ec8429"/><circle cx="1.25" cy="-0.24" r="0.95" fill="#f4f4f4" stroke="#2a1408" stroke-width="1.2" vector-effect="non-scaling-stroke" clip-path="url(#u)"/><circle r="1" fill="none" stroke="#2a1408" stroke-width="1.5" vector-effect="non-scaling-stroke"/></g>
<g transform="matrix(3.37 2.47 -2.89 5.10 136.2 451.4)"><circle r="1" fill="#ec8429"/><circle cx="1.07" cy="-0.14" r="0.95" fill="#f4f4f4" stroke="#2a1408" stroke-width="1.2" vector-effect="non-scaling-stroke" clip-path="url(#u)"/><circle r="1" fill="none" stroke="#2a1408" stroke-width="1.5" vector-effect="non-scaling-stroke"/></g>
<g transform="matrix(3.84 2.23 -2.62 5.30 153.3 461.5)"><circle r="1" fill="#ec8429"/><circle cx="0.91" cy="-0.07" r="0.95" fill="#f4f4f4" stroke="#2a1408" stroke-width="1.2" vector-effect="non-scaling-stroke" clip-path="url(#u)"/><circle r="1" fill="none" stroke="#2a1408" stroke-width="1.5" vector-effect="non-scaling-stroke"/></g>
<g transform="matrix(1.45 3.06 -3.51 4.28 90.3 414.9)"><circle r="1" fill="#ec8429"/><circle r="1" fill="none" stroke="#2a1408" stroke-width="1.5" vector-effect="non-scaling-stroke"/></g>
<g transform="matrix(2.04 2.93 -3.38 4.53 98.3 429.7)"><circle r="1" fill="#ec8429"/><circle cx="1.55" cy="-0.44" r="0.95" fill="#f4f4f4" stroke="#2a1408" stroke-width="1.2" vector-effect="non-scaling-stroke" clip-path="url(#u)"/><circle r="1" fill="none" stroke="#2a1408" stroke-width="1.5" vector-effect="non-scaling-stroke"/></g>
<g transform="matrix(2.60 2.77 -3.21 4.77 109.3 443.5)"><circle r="1" fill="#ec8429"/><circle cx="1.34" cy="-0.30" r="0.95" fill="#f4f4f4" stroke="#2a1408" stroke-width="1.2" vector-effect="non-scaling-stroke" clip-path="url(#u)"/><circle r="1" fill="none" stroke="#2a1408" stroke-width="1.5" vector-effect="non-scaling-stroke"/></g>
<g transform="matrix(3.13 2.58 -3.00 5.00 123.1 456.2)"><circle r="1" fill="#ec8429"/><circle cx="1.15" cy="-0.19" r="0.95" fill="#f4f4f4" stroke="#2a1408" stroke-width="1.2" vector-effect="non-scaling-stroke" clip-path="url(#u)"/><circle r="1" fill="none" stroke="#2a1408" stroke-width="1.5" vector-effect="non-scaling-stroke"/></g>
<g transform="matrix(3.63 2.35 -2.75 5.21 139.6 467.4)"><circle r="1" fill="#ec8429"/><circle cx="0.98" cy="-0.10" r="0.95" fill="#f4f4f4" stroke="#2a1408" stroke-width="1.2" vector-effect="non-scaling-stroke" clip-path="url(#u)"/><circle r="1" fill="none" stroke="#2a1408" stroke-width="1.5" vector-effect="non-scaling-stroke"/></g>
<g transform="matrix(1.17 3.11 -3.55 4.16 80.5 416.2)"><circle r="1" fill="#ec8429"/><circle r="1" fill="none" stroke="#2a1408" stroke-width="1.5" vector-effect="non-scaling-stroke"/></g>
<g transform="matrix(1.77 3.01 -3.44 4.42 87.3 432)"><circle r="1" fill="#ec8429"/><circle cx="1.66" cy="-0.52" r="0.95" fill="#f4f4f4" stroke="#2a1408" stroke-width="1.2" vector-effect="non-scaling-stroke" clip-path="url(#u)"/><circle r="1" fill="none" stroke="#2a1408" stroke-width="1.5" vector-effect="non-scaling-stroke"/></g>
<g transform="matrix(2.34 2.86 -3.29 4.66 97.2 446.8)"><circle r="1" fill="#ec8429"/><circle cx="1.43" cy="-0.36" r="0.95" fill="#f4f4f4" stroke="#2a1408" stroke-width="1.2" vector-effect="non-scaling-stroke" clip-path="url(#u)"/><circle r="1" fill="none" stroke="#2a1408" stroke-width="1.5" vector-effect="non-scaling-stroke"/></g>
<g transform="matrix(2.89 2.69 -3.10 4.90 110.1 460.5)"><circle r="1" fill="#ec8429"/><circle cx="1.23" cy="-0.24" r="0.95" fill="#f4f4f4" stroke="#2a1408" stroke-width="1.2" vector-effect="non-scaling-stroke" clip-path="url(#u)"/><circle r="1" fill="none" stroke="#2a1408" stroke-width="1.5" vector-effect="non-scaling-stroke"/></g>
<g transform="matrix(3.41 2.47 -2.87 5.11 125.9 472.9)"><circle r="1" fill="#ec8429"/><circle cx="1.05" cy="-0.14" r="0.95" fill="#f4f4f4" stroke="#2a1408" stroke-width="1.2" vector-effect="non-scaling-stroke" clip-path="url(#u)"/><circle r="1" fill="none" stroke="#2a1408" stroke-width="1.5" vector-effect="non-scaling-stroke"/></g>
<g transform="matrix(3.88 2.23 -2.60 5.31 144.2 483.7)"><circle r="1" fill="#ec8429"/><circle cx="0.90" cy="-0.06" r="0.95" fill="#f4f4f4" stroke="#2a1408" stroke-width="1.2" vector-effect="non-scaling-stroke" clip-path="url(#u)"/><circle r="1" fill="none" stroke="#2a1408" stroke-width="1.5" vector-effect="non-scaling-stroke"/></g>
<g transform="matrix(1.50 3.07 -3.50 4.30 77.2 432.8)"><circle r="1" fill="#ec8429"/><circle cx="1.78" cy="-0.61" r="0.95" fill="#f4f4f4" stroke="#2a1408" stroke-width="1.2" vector-effect="non-scaling-stroke" clip-path="url(#u)"/><circle r="1" fill="none" stroke="#2a1408" stroke-width="1.5" vector-effect="non-scaling-stroke"/></g>
<g transform="matrix(2.08 2.95 -3.37 4.55 85.9 448.6)"><circle r="1" fill="#ec8429"/><circle cx="1.53" cy="-0.43" r="0.95" fill="#f4f4f4" stroke="#2a1408" stroke-width="1.2" vector-effect="non-scaling-stroke" clip-path="url(#u)"/><circle r="1" fill="none" stroke="#2a1408" stroke-width="1.5" vector-effect="non-scaling-stroke"/></g>
<g transform="matrix(2.64 2.78 -3.19 4.79 97.8 463.3)"><circle r="1" fill="#ec8429"/><circle cx="1.32" cy="-0.29" r="0.95" fill="#f4f4f4" stroke="#2a1408" stroke-width="1.2" vector-effect="non-scaling-stroke" clip-path="url(#u)"/><circle r="1" fill="none" stroke="#2a1408" stroke-width="1.5" vector-effect="non-scaling-stroke"/></g>
<g transform="matrix(3.17 2.59 -2.98 5.02 112.7 476.7)"><circle r="1" fill="#ec8429"/><circle cx="1.13" cy="-0.18" r="0.95" fill="#f4f4f4" stroke="#2a1408" stroke-width="1.2" vector-effect="non-scaling-stroke" clip-path="url(#u)"/><circle r="1" fill="none" stroke="#2a1408" stroke-width="1.5" vector-effect="non-scaling-stroke"/></g>
<g transform="matrix(3.66 2.36 -2.73 5.22 130.3 488.7)"><circle r="1" fill="#ec8429"/><circle cx="0.97" cy="-0.10" r="0.95" fill="#f4f4f4" stroke="#2a1408" stroke-width="1.2" vector-effect="non-scaling-stroke" clip-path="url(#u)"/><circle r="1" fill="none" stroke="#2a1408" stroke-width="1.5" vector-effect="non-scaling-stroke"/></g>
<g transform="matrix(1.22 3.13 -3.55 4.18 66.7 434.3)"><circle r="1" fill="#ec8429"/><circle r="1" fill="none" stroke="#2a1408" stroke-width="1.5" vector-effect="non-scaling-stroke"/></g>
<g transform="matrix(1.82 3.02 -3.43 4.44 74.1 451)"><circle r="1" fill="#ec8429"/><circle cx="1.64" cy="-0.51" r="0.95" fill="#f4f4f4" stroke="#2a1408" stroke-width="1.2" vector-effect="non-scaling-stroke" clip-path="url(#u)"/><circle r="1" fill="none" stroke="#2a1408" stroke-width="1.5" vector-effect="non-scaling-stroke"/></g>
<g transform="matrix(2.39 2.87 -3.28 4.68 84.9 466.7)"><circle r="1" fill="#ec8429"/><circle cx="1.41" cy="-0.35" r="0.95" fill="#f4f4f4" stroke="#2a1408" stroke-width="1.2" vector-effect="non-scaling-stroke" clip-path="url(#u)"/><circle r="1" fill="none" stroke="#2a1408" stroke-width="1.5" vector-effect="non-scaling-stroke"/></g>
<g transform="matrix(2.94 2.69 -3.08 4.91 98.8 481.3)"><circle r="1" fill="#ec8429"/><circle cx="1.21" cy="-0.23" r="0.95" fill="#f4f4f4" stroke="#2a1408" stroke-width="1.2" vector-effect="non-scaling-stroke" clip-path="url(#u)"/><circle r="1" fill="none" stroke="#2a1408" stroke-width="1.5" vector-effect="non-scaling-stroke"/></g>
<g transform="matrix(3.44 2.48 -2.85 5.13 115.7 494.5)"><circle r="1" fill="#ec8429"/><circle cx="1.04" cy="-0.13" r="0.95" fill="#f4f4f4" stroke="#2a1408" stroke-width="1.2" vector-effect="non-scaling-stroke" clip-path="url(#u)"/><circle r="1" fill="none" stroke="#2a1408" stroke-width="1.5" vector-effect="non-scaling-stroke"/></g>
<g transform="matrix(3.91 2.23 -2.57 5.33 135.4 506)"><circle r="1" fill="#ec8429"/><circle cx="0.88" cy="-0.06" r="0.95" fill="#f4f4f4" stroke="#2a1408" stroke-width="1.2" vector-effect="non-scaling-stroke" clip-path="url(#u)"/><circle r="1" fill="none" stroke="#2a1408" stroke-width="1.5" vector-effect="non-scaling-stroke"/></g>
<g transform="matrix(1.54 3.09 -3.49 4.32 64.4 450.7)"><circle r="1" fill="#ec8429"/><circle cx="1.75" cy="-0.60" r="0.95" fill="#f4f4f4" stroke="#2a1408" stroke-width="1.2" vector-effect="non-scaling-stroke" clip-path="url(#u)"/><circle r="1" fill="none" stroke="#2a1408" stroke-width="1.5" vector-effect="non-scaling-stroke"/></g>
<g transform="matrix(2.13 2.96 -3.35 4.57 73.8 467.4)"><circle r="1" fill="#ec8429"/><circle cx="1.51" cy="-0.42" r="0.95" fill="#f4f4f4" stroke="#2a1408" stroke-width="1.2" vector-effect="non-scaling-stroke" clip-path="url(#u)"/><circle r="1" fill="none" stroke="#2a1408" stroke-width="1.5" vector-effect="non-scaling-stroke"/></g>
<g transform="matrix(2.69 2.79 -3.18 4.81 86.6 483)"><circle r="1" fill="#ec8429"/><circle cx="1.30" cy="-0.28" r="0.95" fill="#f4f4f4" stroke="#2a1408" stroke-width="1.2" vector-effect="non-scaling-stroke" clip-path="url(#u)"/><circle r="1" fill="none" stroke="#2a1408" stroke-width="1.5" vector-effect="non-scaling-stroke"/></g>
<g transform="matrix(3.21 2.59 -2.96 5.03 102.5 497.2)"><circle r="1" fill="#ec8429"/><circle cx="1.12" cy="-0.18" r="0.95" fill="#f4f4f4" stroke="#2a1408" stroke-width="1.2" vector-effect="non-scaling-stroke" clip-path="url(#u)"/><circle r="1" fill="none" stroke="#2a1408" stroke-width="1.5" vector-effect="non-scaling-stroke"/></g>
<g transform="matrix(3.70 2.35 -2.70 5.24 121.4 509.9)"><circle r="1" fill="#ec8429"/><circle cx="0.95" cy="-0.09" r="0.95" fill="#f4f4f4" stroke="#2a1408" stroke-width="1.2" vector-effect="non-scaling-stroke" clip-path="url(#u)"/><circle r="1" fill="none" stroke="#2a1408" stroke-width="1.5" vector-effect="non-scaling-stroke"/></g>
<g transform="matrix(6.14 1.96 -2.38 7.31 213.2 446.5)"><circle r="1" fill="#2e1407"/><circle cx="0.10" cy="0.01" r="0.75" fill="#fff" clip-path="url(#u)"/></g>
<g transform="matrix(6.52 1.55 -1.91 7.47 233.9 452.9)"><circle r="1" fill="#2e1407"/><circle cx="0.08" cy="0.02" r="0.75" fill="#fff" clip-path="url(#u)"/></g>
<g transform="matrix(6.82 1.12 -1.41 7.59 255.8 457.6)"><circle r="1" fill="#2e1407"/><circle cx="0.06" cy="0.02" r="0.75" fill="#fff" clip-path="url(#u)"/></g>
<g transform="matrix(7.04 0.68 -0.89 7.67 278.7 460.3)"><circle r="1" fill="#2e1407"/><circle cx="0.04" cy="0.02" r="0.75" fill="#fff" clip-path="url(#u)"/></g>
<g transform="matrix(7.16 0.23 -0.36 7.71 302.1 461.1)"><circle r="1" fill="#2e1407"/><circle cx="0.02" cy="0.02" r="0.75" fill="#fff" clip-path="url(#u)"/></g>
<g transform="matrix(5.92 2.17 -2.61 7.22 198.6 455.7)"><circle r="1" fill="#2e1407"/><circle cx="0.11" cy="0.01" r="0.75" fill="#fff" clip-path="url(#u)"/></g>
<g transform="matrix(6.34 1.77 -2.15 7.39 219.4 463.4)"><circle r="1" fill="#2e1407"/><circle cx="0.09" cy="0.02" r="0.75" fill="#fff" clip-path="url(#u)"/></g>
<g transform="matrix(6.69 1.35 -1.66 7.53 241.8 469.2)"><circle r="1" fill="#2e1407"/><circle cx="0.07" cy="0.02" r="0.75" fill="#fff" clip-path="url(#u)"/></g>
<g transform="matrix(6.94 0.91 -1.15 7.63 265.3 473.1)"><circle r="1" fill="#2e1407"/><circle cx="0.05" cy="0.02" r="0.75" fill="#fff" clip-path="url(#u)"/></g>
<g transform="matrix(7.11 0.45 -0.62 7.70 289.6 475)"><circle r="1" fill="#2e1407"/><circle cx="0.03" cy="0.02" r="0.75" fill="#fff" clip-path="url(#u)"/></g>
<g transform="matrix(7.19 -0.00 -0.08 7.72 314.3 474.8)"><circle r="1" fill="#2e1407"/><circle cx="0.01" cy="0.02" r="0.75" fill="#fff" clip-path="url(#u)"/></g>
<g transform="matrix(6.14 1.99 -2.39 7.31 204.6 472.2)"><circle r="1" fill="#2e1407"/><circle cx="0.10" cy="0.01" r="0.75" fill="#fff" clip-path="url(#u)"/></g>
<g transform="matrix(6.53 1.57 -1.91 7.47 227.2 479.3)"><circle r="1" fill="#2e1407"/><circle cx="0.08" cy="0.02" r="0.75" fill="#fff" clip-path="url(#u)"/></g>
<g transform="matrix(6.83 1.13 -1.40 7.59 251.2 484.4)"><circle r="1" fill="#2e1407"/><circle cx="0.06" cy="0.02" r="0.75" fill="#fff" clip-path="url(#u)"/></g>
<g transform="matrix(7.04 0.68 -0.88 7.67 276.3 487.5)"><circle r="1" fill="#2e1407"/><circle cx="0.04" cy="0.02" r="0.75" fill="#fff" clip-path="url(#u)"/></g>
<g transform="matrix(7.17 0.22 -0.34 7.71 301.9 488.4)"><circle r="1" fill="#2e1407"/><circle cx="0.02" cy="0.02" r="0.75" fill="#fff" clip-path="url(#u)"/></g>
<g transform="matrix(5.91 2.20 -2.62 7.22 190 478.6)"><circle r="1" fill="#2e1407"/><circle cx="0.11" cy="0.01" r="0.75" fill="#fff" clip-path="url(#u)"/></g>
<g transform="matrix(6.34 1.79 -2.15 7.39 212.5 486.9)"><circle r="1" fill="#2e1407"/><circle cx="0.09" cy="0.02" r="0.75" fill="#fff" clip-path="url(#u)"/></g>
<g transform="matrix(6.69 1.36 -1.65 7.53 236.8 493.2)"><circle r="1" fill="#2e1407"/><circle cx="0.07" cy="0.02" r="0.75" fill="#fff" clip-path="url(#u)"/></g>
<g transform="matrix(6.95 0.91 -1.13 7.64 262.2 497.5)"><circle r="1" fill="#2e1407"/><circle cx="0.05" cy="0.02" r="0.75" fill="#fff" clip-path="url(#u)"/></g>
<g transform="matrix(7.12 0.45 -0.60 7.70 288.6 499.5)"><circle r="1" fill="#2e1407"/><circle cx="0.03" cy="0.02" r="0.75" fill="#fff" clip-path="url(#u)"/></g>
<g transform="matrix(7.19 -0.02 -0.06 7.72 315.3 499.4)"><circle r="1" fill="#2e1407"/><circle cx="0.01" cy="0.02" r="0.75" fill="#fff" clip-path="url(#u)"/></g>
<g transform="matrix(6.13 2.01 -2.39 7.31 197.2 494.2)"><circle r="1" fill="#2e1407"/><circle cx="0.10" cy="0.01" r="0.75" fill="#fff" clip-path="url(#u)"/></g>
<g transform="matrix(6.53 1.59 -1.90 7.47 221.5 501.9)"><circle r="1" fill="#2e1407"/><circle cx="0.08" cy="0.02" r="0.75" fill="#fff" clip-path="url(#u)"/></g>
<g transform="matrix(6.83 1.14 -1.39 7.59 247.4 507.4)"><circle r="1" fill="#2e1407"/><circle cx="0.06" cy="0.02" r="0.75" fill="#fff" clip-path="url(#u)"/></g>
<g transform="matrix(7.05 0.68 -0.86 7.67 274.4 510.7)"><circle r="1" fill="#2e1407"/><circle cx="0.04" cy="0.02" r="0.75" fill="#fff" clip-path="url(#u)"/></g>
<g transform="matrix(7.17 0.20 -0.32 7.71 301.9 511.7)"><circle r="1" fill="#2e1407"/><circle cx="0.02" cy="0.02" r="0.75" fill="#fff" clip-path="url(#u)"/></g>
<g transform="matrix(5.90 2.23 -2.62 7.21 181.4 501)"><circle r="1" fill="#2e1407"/><circle cx="0.11" cy="0.01" r="0.75" fill="#fff" clip-path="url(#u)"/></g>
<g transform="matrix(6.34 1.81 -2.15 7.39 205.7 510)"><circle r="1" fill="#2e1407"/><circle cx="0.09" cy="0.02" r="0.75" fill="#fff" clip-path="url(#u)"/></g>
<g transform="matrix(6.69 1.37 -1.65 7.54 231.8 516.9)"><circle r="1" fill="#2e1407"/><circle cx="0.07" cy="0.02" r="0.75" fill="#fff" clip-path="url(#u)"/></g>
<g transform="matrix(6.95 0.91 -1.12 7.64 259.3 521.5)"><circle r="1" fill="#2e1407"/><circle cx="0.05" cy="0.02" r="0.75" fill="#fff" clip-path="url(#u)"/></g>
<g transform="matrix(7.12 0.44 -0.58 7.70 287.6 523.7)"><circle r="1" fill="#2e1407"/><circle cx="0.03" cy="0.02" r="0.75" fill="#fff" clip-path="url(#u)"/></g>
<g transform="matrix(7.19 -0.04 -0.03 7.72 316.4 523.5)"><circle r="1" fill="#2e1407"/><circle cx="0.01" cy="0.02" r="0.75" fill="#fff" clip-path="url(#u)"/></g>
<g transform="matrix(6.13 2.03 -2.39 7.31 189.7 516.3)"><circle r="1" fill="#2e1407"/><circle cx="0.10" cy="0.01" r="0.75" fill="#fff" clip-path="url(#u)"/></g>
<g transform="matrix(6.53 1.60 -1.90 7.47 215.8 524.6)"><circle r="1" fill="#2e1407"/><circle cx="0.08" cy="0.02" r="0.75" fill="#fff" clip-path="url(#u)"/></g>
<g transform="matrix(6.84 1.14 -1.38 7.59 243.6 530.5)"><circle r="1" fill="#2e1407"/><circle cx="0.06" cy="0.02" r="0.75" fill="#fff" clip-path="url(#u)"/></g>
<g transform="matrix(7.05 0.67 -0.85 7.67 272.5 534.1)"><circle r="1" fill="#2e1407"/><circle cx="0.04" cy="0.02" r="0.75" fill="#fff" clip-path="url(#u)"/></g>
<g transform="matrix(7.17 0.19 -0.30 7.71 302.1 535.1)"><circle r="1" fill="#2e1407"/><circle cx="0.02" cy="0.02" r="0.75" fill="#fff" clip-path="url(#u)"/></g>
<g transform="matrix(5.90 2.25 -2.63 7.21 172.9 523.4)"><circle r="1" fill="#2e1407"/><circle cx="0.11" cy="0.01" r="0.75" fill="#fff" clip-path="url(#u)"/></g>
<g transform="matrix(6.34 1.83 -2.15 7.39 198.9 533.1)"><circle r="1" fill="#2e1407"/><circle cx="0.09" cy="0.01" r="0.75" fill="#fff" clip-path="url(#u)"/></g>
<g transform="matrix(6.70 1.38 -1.64 7.54 226.9 540.5)"><circle r="1" fill="#2e1407"/><circle cx="0.07" cy="0.02" r="0.75" fill="#fff" clip-path="url(#u)"/></g>
<g transform="matrix(6.96 0.91 -1.11 7.64 256.4 545.4)"><circle r="1" fill="#2e1407"/><circle cx="0.05" cy="0.02" r="0.75" fill="#fff" clip-path="url(#u)"/></g>
<g transform="matrix(7.13 0.43 -0.56 7.70 286.8 547.8)"><circle r="1" fill="#2e1407"/><circle cx="0.03" cy="0.02" r="0.75" fill="#fff" clip-path="url(#u)"/></g>
<g transform="matrix(7.20 -0.06 -0.01 7.72 317.7 547.6)"><circle r="1" fill="#2e1407"/><circle cx="0.01" cy="0.02" r="0.75" fill="#fff" clip-path="url(#u)"/></g>
<g transform="matrix(6.13 2.05 -2.40 7.31 182.3 538.2)"><circle r="1" fill="#2e1407"/><circle cx="0.10" cy="0.01" r="0.75" fill="#fff" clip-path="url(#u)"/></g>
<g transform="matrix(6.53 1.61 -1.90 7.47 210.2 547)"><circle r="1" fill="#2e1407"/><circle cx="0.08" cy="0.02" r="0.75" fill="#fff" clip-path="url(#u)"/></g>
<g transform="matrix(6.84 1.15 -1.38 7.59 239.9 553.4)"><circle r="1" fill="#2e1407"/><circle cx="0.06" cy="0.02" r="0.75" fill="#fff" clip-path="url(#u)"/></g>
<g transform="matrix(7.06 0.66 -0.83 7.68 270.8 557.2)"><circle r="1" fill="#2e1407"/><circle cx="0.04" cy="0.02" r="0.75" fill="#fff" clip-path="url(#u)"/></g>
<g transform="matrix(7.17 0.17 -0.27 7.72 302.5 558.3)"><circle r="1" fill="#2e1407"/><circle cx="0.02" cy="0.02" r="0.75" fill="#fff" clip-path="url(#u)"/></g>
<g transform="matrix(7.00 -1.09 1.21 7.61 371.1 457)"><circle r="1" fill="#2e1407"/><circle cx="-0.04" cy="0.02" r="0.75" fill="#fff" clip-path="url(#u)"/></g>
<g transform="matrix(6.78 -1.51 1.71 7.50 393.7 453.4)"><circle r="1" fill="#2e1407"/><circle cx="-0.06" cy="0.02" r="0.75" fill="#fff" clip-path="url(#u)"/></g>
<g transform="matrix(6.47 -1.92 2.20 7.36 415.3 448.1)"><circle r="1" fill="#2e1407"/><circle cx="-0.08" cy="0.01" r="0.75" fill="#fff" clip-path="url(#u)"/></g>
<g transform="matrix(6.07 -2.30 2.66 7.18 435.6 441)"><circle r="1" fill="#2e1407"/><circle cx="-0.10" cy="0.01" r="0.75" fill="#fff" clip-path="url(#u)"/></g>
<g transform="matrix(5.61 -2.65 3.09 6.97 454.3 432.4)"><circle r="1" fill="#2e1407"/><circle cx="-0.12" cy="0.00" r="0.75" fill="#fff" clip-path="url(#u)"/></g>
<g transform="matrix(7.09 -0.86 0.94 7.65 360.9 472.1)"><circle r="1" fill="#2e1407"/><circle cx="-0.03" cy="0.02" r="0.75" fill="#fff" clip-path="url(#u)"/></g>
<g transform="matrix(6.90 -1.30 1.46 7.56 384.8 469.3)"><circle r="1" fill="#2e1407"/><circle cx="-0.05" cy="0.02" r="0.75" fill="#fff" clip-path="url(#u)"/></g>
<g transform="matrix(6.63 -1.72 1.96 7.43 408 464.5)"><circle r="1" fill="#2e1407"/><circle cx="-0.07" cy="0.02" r="0.75" fill="#fff" clip-path="url(#u)"/></g>
<g transform="matrix(6.28 -2.12 2.44 7.27 430.1 458)"><circle r="1" fill="#2e1407"/><circle cx="-0.09" cy="0.01" r="0.75" fill="#fff" clip-path="url(#u)"/></g>
<g transform="matrix(5.85 -2.49 2.89 7.07 450.6 449.7)"><circle r="1" fill="#2e1407"/><circle cx="-0.11" cy="0.01" r="0.75" fill="#fff" clip-path="url(#u)"/></g>
<g transform="matrix(5.34 -2.83 3.30 6.85 469.3 439.8)"><circle r="1" fill="#2e1407"/><circle cx="-0.13" cy="-0.00" r="0.75" fill="#fff" clip-path="url(#u)"/></g>
<g transform="matrix(7.01 -1.08 1.19 7.61 374.6 484)"><circle r="1" fill="#2e1407"/><circle cx="-0.04" cy="0.02" r="0.75" fill="#fff" clip-path="url(#u)"/></g>
<g transform="matrix(6.78 -1.52 1.70 7.50 399.2 480)"><circle r="1" fill="#2e1407"/><circle cx="-0.06" cy="0.02" r="0.75" fill="#fff" clip-path="url(#u)"/></g>
<g transform="matrix(6.47 -1.93 2.20 7.36 422.9 474.1)"><circle r="1" fill="#2e1407"/><circle cx="-0.08" cy="0.01" r="0.75" fill="#fff" clip-path="url(#u)"/></g>
<g transform="matrix(6.07 -2.33 2.67 7.18 445.2 466.3)"><circle r="1" fill="#2e1407"/><circle cx="-0.10" cy="0.01" r="0.75" fill="#fff" clip-path="url(#u)"/></g>
<g transform="matrix(5.60 -2.69 3.10 6.96 465.7 456.7)"><circle r="1" fill="#2e1407"/><circle cx="-0.12" cy="0.00" r="0.75" fill="#fff" clip-path="url(#u)"/></g>
<g transform="matrix(7.09 -0.85 0.91 7.66 362.8 496.5)"><circle r="1" fill="#2e1407"/><circle cx="-0.03" cy="0.02" r="0.75" fill="#fff" clip-path="url(#u)"/></g>
<g transform="matrix(6.91 -1.30 1.44 7.56 388.8 493.4)"><circle r="1" fill="#2e1407"/><circle cx="-0.05" cy="0.02" r="0.75" fill="#fff" clip-path="url(#u)"/></g>
<g transform="matrix(6.64 -1.73 1.95 7.44 413.9 488.3)"><circle r="1" fill="#2e1407"/><circle cx="-0.07" cy="0.02" r="0.75" fill="#fff" clip-path="url(#u)"/></g>
<g transform="matrix(6.28 -2.14 2.44 7.27 437.8 481.1)"><circle r="1" fill="#2e1407"/><circle cx="-0.09" cy="0.01" r="0.75" fill="#fff" clip-path="url(#u)"/></g>
<g transform="matrix(5.84 -2.52 2.89 7.07 460.1 472.1)"><circle r="1" fill="#2e1407"/><circle cx="-0.11" cy="0.00" r="0.75" fill="#fff" clip-path="url(#u)"/></g>
<g transform="matrix(5.32 -2.87 3.31 6.84 480.3 461.3)"><circle r="1" fill="#2e1407"/><circle cx="-0.13" cy="-0.00" r="0.75" fill="#fff" clip-path="url(#u)"/></g>
<g transform="matrix(7.02 -1.07 1.17 7.62 377.2 507.1)"><circle r="1" fill="#2e1407"/><circle cx="-0.04" cy="0.02" r="0.75" fill="#fff" clip-path="url(#u)"/></g>
<g transform="matrix(6.79 -1.52 1.69 7.51 403.9 502.8)"><circle r="1" fill="#2e1407"/><circle cx="-0.06" cy="0.02" r="0.75" fill="#fff" clip-path="url(#u)"/></g>
<g transform="matrix(6.47 -1.95 2.20 7.36 429.4 496.3)"><circle r="1" fill="#2e1407"/><circle cx="-0.08" cy="0.01" r="0.75" fill="#fff" clip-path="url(#u)"/></g>
<g transform="matrix(6.07 -2.35 2.67 7.17 453.4 487.9)"><circle r="1" fill="#2e1407"/><circle cx="-0.10" cy="0.01" r="0.75" fill="#fff" clip-path="url(#u)"/></g>
<g transform="matrix(5.59 -2.72 3.11 6.96 475.5 477.5)"><circle r="1" fill="#2e1407"/><circle cx="-0.12" cy="0.00" r="0.75" fill="#fff" clip-path="url(#u)"/></g>
<g transform="matrix(7.10 -0.84 0.89 7.66 364.5 520.6)"><circle r="1" fill="#2e1407"/><circle cx="-0.03" cy="0.02" r="0.75" fill="#fff" clip-path="url(#u)"/></g>
<g transform="matrix(6.92 -1.30 1.43 7.57 392.6 517.2)"><circle r="1" fill="#2e1407"/><circle cx="-0.05" cy="0.02" r="0.75" fill="#fff" clip-path="url(#u)"/></g>
<g transform="matrix(6.64 -1.74 1.94 7.44 419.7 511.6)"><circle r="1" fill="#2e1407"/><circle cx="-0.07" cy="0.02" r="0.75" fill="#fff" clip-path="url(#u)"/></g>
<g transform="matrix(6.28 -2.16 2.44 7.27 445.5 503.9)"><circle r="1" fill="#2e1407"/><circle cx="-0.09" cy="0.01" r="0.75" fill="#fff" clip-path="url(#u)"/></g>
<g transform="matrix(5.83 -2.55 2.90 7.07 469.5 494)"><circle r="1" fill="#2e1407"/><circle cx="-0.11" cy="0.00" r="0.75" fill="#fff" clip-path="url(#u)"/></g>
<g transform="matrix(5.31 -2.91 3.32 6.83 491.3 482.3)"><circle r="1" fill="#2e1407"/><circle cx="-0.13" cy="-0.00" r="0.75" fill="#fff" clip-path="url(#u)"/></g>
<g transform="matrix(7.02 -1.07 1.15 7.62 379.8 530.3)"><circle r="1" fill="#2e1407"/><circle cx="-0.03" cy="0.02" r="0.75" fill="#fff" clip-path="url(#u)"/></g>
<g transform="matrix(6.79 -1.52 1.68 7.51 408.5 525.7)"><circle r="1" fill="#2e1407"/><circle cx="-0.05" cy="0.02" r="0.75" fill="#fff" clip-path="url(#u)"/></g>
<g transform="matrix(6.47 -1.96 2.19 7.36 435.9 518.8)"><circle r="1" fill="#2e1407"/><circle cx="-0.08" cy="0.01" r="0.75" fill="#fff" clip-path="url(#u)"/></g>
<g transform="matrix(6.06 -2.37 2.67 7.17 461.7 509.6)"><circle r="1" fill="#2e1407"/><circle cx="-0.10" cy="0.01" r="0.75" fill="#fff" clip-path="url(#u)"/></g>
<g transform="matrix(5.57 -2.75 3.12 6.95 485.4 498.4)"><circle r="1" fill="#2e1407"/><circle cx="-0.12" cy="-0.00" r="0.75" fill="#fff" clip-path="url(#u)"/></g>
<g transform="matrix(7.10 -0.83 0.87 7.66 366.1 544.6)"><circle r="1" fill="#2e1407"/><circle cx="-0.02" cy="0.02" r="0.75" fill="#fff" clip-path="url(#u)"/></g>
<g transform="matrix(6.92 -1.30 1.41 7.57 396.3 541.1)"><circle r="1" fill="#2e1407"/><circle cx="-0.04" cy="0.02" r="0.75" fill="#fff" clip-path="url(#u)"/></g>
<g transform="matrix(6.64 -1.75 1.94 7.44 425.4 535)"><circle r="1" fill="#2e1407"/><circle cx="-0.06" cy="0.02" r="0.75" fill="#fff" clip-path="url(#u)"/></g>
<g transform="matrix(6.28 -2.18 2.44 7.27 453.1 526.6)"><circle r="1" fill="#2e1407"/><circle cx="-0.09" cy="0.01" r="0.75" fill="#fff" clip-path="url(#u)"/></g>
<g transform="matrix(5.82 -2.57 2.91 7.06 478.9 516)"><circle r="1" fill="#2e1407"/><circle cx="-0.11" cy="0.00" r="0.75" fill="#fff" clip-path="url(#u)"/></g>
<g transform="matrix(5.29 -2.94 3.33 6.83 502.3 503.3)"><circle r="1" fill="#2e1407"/><circle cx="-0.13" cy="-0.01" r="0.75" fill="#fff" clip-path="url(#u)"/></g>
<g transform="matrix(7.03 -1.06 1.14 7.62 382.3 553.3)"><circle r="1" fill="#2e1407"/><circle cx="-0.03" cy="0.02" r="0.75" fill="#fff" clip-path="url(#u)"/></g>
<g transform="matrix(6.80 -1.52 1.67 7.51 412.9 548.4)"><circle r="1" fill="#2e1407"/><circle cx="-0.05" cy="0.02" r="0.75" fill="#fff" clip-path="url(#u)"/></g>
<g transform="matrix(6.47 -1.97 2.19 7.36 442.3 540.9)"><circle r="1" fill="#2e1407"/><circle cx="-0.08" cy="0.01" r="0.75" fill="#fff" clip-path="url(#u)"/></g>
<g transform="matrix(6.06 -2.39 2.68 7.17 469.9 531)"><circle r="1" fill="#2e1407"/><circle cx="-0.10" cy="0.01" r="0.75" fill="#fff" clip-path="url(#u)"/></g>
<g transform="matrix(5.56 -2.77 3.13 6.95 495.3 519)"><circle r="1" fill="#2e1407"/><circle cx="-0.12" cy="-0.00" r="0.75" fill="#fff" clip-path="url(#u)"/></g>
<g transform="matrix(2.99 -2.71 3.22 4.81 500.4 402.5)"><circle r="1" fill="#ec8429"/><circle cx="-1.14" cy="-0.23" r="0.95" fill="#f4f4f4" stroke="#2a1408" stroke-width="1.2" vector-effect="non-scaling-stroke" clip-path="url(#u)"/><circle r="1" fill="none" stroke="#2a1408" stroke-width="1.5" vector-effect="non-scaling-stroke"/></g>
<g transform="matrix(2.45 -2.87 3.41 4.57 512 391.4)"><circle r="1" fill="#ec8429"/><circle cx="-1.33" cy="-0.34" r="0.95" fill="#f4f4f4" stroke="#2a1408" stroke-width="1.2" vector-effect="non-scaling-stroke" clip-path="url(#u)"/><circle r="1" fill="none" stroke="#2a1408" stroke-width="1.5" vector-effect="non-scaling-stroke"/></g>
<g transform="matrix(1.88 -2.99 3.57 4.32 521.1 379.5)"><circle r="1" fill="#ec8429"/><circle cx="-1.55" cy="-0.48" r="0.95" fill="#f4f4f4" stroke="#2a1408" stroke-width="1.2" vector-effect="non-scaling-stroke" clip-path="url(#u)"/><circle r="1" fill="none" stroke="#2a1408" stroke-width="1.5" vector-effect="non-scaling-stroke"/></g>
<g transform="matrix(1.29 -3.07 3.68 4.06 527.5 366.8)"><circle r="1" fill="#ec8429"/><circle r="1" fill="none" stroke="#2a1408" stroke-width="1.5" vector-effect="non-scaling-stroke"/></g>
<g transform="matrix(0.69 -3.12 3.76 3.80 531.2 353.6)"><circle r="1" fill="#ec8429"/><circle r="1" fill="none" stroke="#2a1408" stroke-width="1.5" vector-effect="non-scaling-stroke"/></g>
<g transform="matrix(3.26 -2.63 3.09 4.93 500.4 419.5)"><circle r="1" fill="#ec8429"/><circle cx="-1.05" cy="-0.18" r="0.95" fill="#f4f4f4" stroke="#2a1408" stroke-width="1.2" vector-effect="non-scaling-stroke" clip-path="url(#u)"/><circle r="1" fill="none" stroke="#2a1408" stroke-width="1.5" vector-effect="non-scaling-stroke"/></g>
<g transform="matrix(2.74 -2.81 3.31 4.70 513.8 408.5)"><circle r="1" fill="#ec8429"/><circle cx="-1.22" cy="-0.28" r="0.95" fill="#f4f4f4" stroke="#2a1408" stroke-width="1.2" vector-effect="non-scaling-stroke" clip-path="url(#u)"/><circle r="1" fill="none" stroke="#2a1408" stroke-width="1.5" vector-effect="non-scaling-stroke"/></g>
<g transform="matrix(2.19 -2.95 3.49 4.45 524.7 396.5)"><circle r="1" fill="#ec8429"/><circle cx="-1.42" cy="-0.40" r="0.95" fill="#f4f4f4" stroke="#2a1408" stroke-width="1.2" vector-effect="non-scaling-stroke" clip-path="url(#u)"/><circle r="1" fill="none" stroke="#2a1408" stroke-width="1.5" vector-effect="non-scaling-stroke"/></g>
<g transform="matrix(1.61 -3.05 3.63 4.20 532.9 383.5)"><circle r="1" fill="#ec8429"/><circle cx="-1.66" cy="-0.56" r="0.95" fill="#f4f4f4" stroke="#2a1408" stroke-width="1.2" vector-effect="non-scaling-stroke" clip-path="url(#u)"/><circle r="1" fill="none" stroke="#2a1408" stroke-width="1.5" vector-effect="non-scaling-stroke"/></g>
<g transform="matrix(1.01 -3.12 3.72 3.94 538.2 369.9)"><circle r="1" fill="#ec8429"/><circle r="1" fill="none" stroke="#2a1408" stroke-width="1.5" vector-effect="non-scaling-stroke"/></g>
<g transform="matrix(0.40 -3.15 3.77 3.67 540.7 355.9)"><circle r="1" fill="#ec8429"/><circle r="1" fill="none" stroke="#2a1408" stroke-width="1.5" vector-effect="non-scaling-stroke"/></g>
<g transform="matrix(3.02 -2.73 3.20 4.82 514 425.2)"><circle r="1" fill="#ec8429"/><circle cx="-1.13" cy="-0.22" r="0.95" fill="#f4f4f4" stroke="#2a1408" stroke-width="1.2" vector-effect="non-scaling-stroke" clip-path="url(#u)"/><circle r="1" fill="none" stroke="#2a1408" stroke-width="1.5" vector-effect="non-scaling-stroke"/></g>
<g transform="matrix(2.49 -2.89 3.40 4.59 526.6 413.2)"><circle r="1" fill="#ec8429"/><circle cx="-1.31" cy="-0.33" r="0.95" fill="#f4f4f4" stroke="#2a1408" stroke-width="1.2" vector-effect="non-scaling-stroke" clip-path="url(#u)"/><circle r="1" fill="none" stroke="#2a1408" stroke-width="1.5" vector-effect="non-scaling-stroke"/></g>
<g transform="matrix(1.92 -3.02 3.56 4.34 536.6 400.1)"><circle r="1" fill="#ec8429"/><circle cx="-1.52" cy="-0.47" r="0.95" fill="#f4f4f4" stroke="#2a1408" stroke-width="1.2" vector-effect="non-scaling-stroke" clip-path="url(#u)"/><circle r="1" fill="none" stroke="#2a1408" stroke-width="1.5" vector-effect="non-scaling-stroke"/></g>
<g transform="matrix(1.34 -3.11 3.68 4.08 543.8 386.3)"><circle r="1" fill="#ec8429"/><circle cx="-1.77" cy="-0.66" r="0.95" fill="#f4f4f4" stroke="#2a1408" stroke-width="1.2" vector-effect="non-scaling-stroke" clip-path="url(#u)"/><circle r="1" fill="none" stroke="#2a1408" stroke-width="1.5" vector-effect="non-scaling-stroke"/></g>
<g transform="matrix(0.73 -3.16 3.75 3.82 548 371.9)"><circle r="1" fill="#ec8429"/><circle r="1" fill="none" stroke="#2a1408" stroke-width="1.5" vector-effect="non-scaling-stroke"/></g>
<g transform="matrix(3.30 -2.65 3.08 4.94 512 440.6)"><circle r="1" fill="#ec8429"/><circle cx="-1.03" cy="-0.17" r="0.95" fill="#f4f4f4" stroke="#2a1408" stroke-width="1.2" vector-effect="non-scaling-stroke" clip-path="url(#u)"/><circle r="1" fill="none" stroke="#2a1408" stroke-width="1.5" vector-effect="non-scaling-stroke"/></g>
<g transform="matrix(2.78 -2.82 3.30 4.72 526.4 428.7)"><circle r="1" fill="#ec8429"/><circle cx="-1.21" cy="-0.27" r="0.95" fill="#f4f4f4" stroke="#2a1408" stroke-width="1.2" vector-effect="non-scaling-stroke" clip-path="url(#u)"/><circle r="1" fill="none" stroke="#2a1408" stroke-width="1.5" vector-effect="non-scaling-stroke"/></g>
<g transform="matrix(2.23 -2.97 3.48 4.47 538.2 415.7)"><circle r="1" fill="#ec8429"/><circle cx="-1.40" cy="-0.40" r="0.95" fill="#f4f4f4" stroke="#2a1408" stroke-width="1.2" vector-effect="non-scaling-stroke" clip-path="url(#u)"/><circle r="1" fill="none" stroke="#2a1408" stroke-width="1.5" vector-effect="non-scaling-stroke"/></g>
<g transform="matrix(1.65 -3.08 3.62 4.22 547.1 401.8)"><circle r="1" fill="#ec8429"/><circle cx="-1.63" cy="-0.56" r="0.95" fill="#f4f4f4" stroke="#2a1408" stroke-width="1.2" vector-effect="non-scaling-stroke" clip-path="url(#u)"/><circle r="1" fill="none" stroke="#2a1408" stroke-width="1.5" vector-effect="non-scaling-stroke"/></g>
<g transform="matrix(1.06 -3.15 3.72 3.96 553.1 387.2)"><circle r="1" fill="#ec8429"/><circle r="1" fill="none" stroke="#2a1408" stroke-width="1.5" vector-effect="non-scaling-stroke"/></g>
<g transform="matrix(0.45 -3.18 3.77 3.69 556 372)"><circle r="1" fill="#ec8429"/><circle r="1" fill="none" stroke="#2a1408" stroke-width="1.5" vector-effect="non-scaling-stroke"/></g>
<g transform="matrix(3.06 -2.74 3.18 4.84 525.3 444.9)"><circle r="1" fill="#ec8429"/><circle cx="-1.11" cy="-0.22" r="0.95" fill="#f4f4f4" stroke="#2a1408" stroke-width="1.2" vector-effect="non-scaling-stroke" clip-path="url(#u)"/><circle r="1" fill="none" stroke="#2a1408" stroke-width="1.5" vector-effect="non-scaling-stroke"/></g>
<g transform="matrix(2.53 -2.91 3.39 4.61 538.9 432)"><circle r="1" fill="#ec8429"/><circle cx="-1.29" cy="-0.33" r="0.95" fill="#f4f4f4" stroke="#2a1408" stroke-width="1.2" vector-effect="non-scaling-stroke" clip-path="url(#u)"/><circle r="1" fill="none" stroke="#2a1408" stroke-width="1.5" vector-effect="non-scaling-stroke"/></g>
<g transform="matrix(1.97 -3.04 3.55 4.36 549.7 418.1)"><circle r="1" fill="#ec8429"/><circle cx="-1.50" cy="-0.47" r="0.95" fill="#f4f4f4" stroke="#2a1408" stroke-width="1.2" vector-effect="non-scaling-stroke" clip-path="url(#u)"/><circle r="1" fill="none" stroke="#2a1408" stroke-width="1.5" vector-effect="non-scaling-stroke"/></g>
<g transform="matrix(1.38 -3.13 3.67 4.10 557.6 403.3)"><circle r="1" fill="#ec8429"/><circle cx="-1.74" cy="-0.65" r="0.95" fill="#f4f4f4" stroke="#2a1408" stroke-width="1.2" vector-effect="non-scaling-stroke" clip-path="url(#u)"/><circle r="1" fill="none" stroke="#2a1408" stroke-width="1.5" vector-effect="non-scaling-stroke"/></g>
<g transform="matrix(0.78 -3.18 3.75 3.84 562.3 387.8)"><circle r="1" fill="#ec8429"/><circle r="1" fill="none" stroke="#2a1408" stroke-width="1.5" vector-effect="non-scaling-stroke"/></g>
<g transform="matrix(3.33 -2.65 3.06 4.96 523.1 461.5)"><circle r="1" fill="#ec8429"/><circle cx="-1.02" cy="-0.17" r="0.95" fill="#f4f4f4" stroke="#2a1408" stroke-width="1.2" vector-effect="non-scaling-stroke" clip-path="url(#u)"/><circle r="1" fill="none" stroke="#2a1408" stroke-width="1.5" vector-effect="non-scaling-stroke"/></g>
<g transform="matrix(2.82 -2.84 3.28 4.73 538.6 448.8)"><circle r="1" fill="#ec8429"/><circle cx="-1.19" cy="-0.27" r="0.95" fill="#f4f4f4" stroke="#2a1408" stroke-width="1.2" vector-effect="non-scaling-stroke" clip-path="url(#u)"/><circle r="1" fill="none" stroke="#2a1408" stroke-width="1.5" vector-effect="non-scaling-stroke"/></g>
<g transform="matrix(2.27 -2.99 3.47 4.49 551.3 434.8)"><circle r="1" fill="#ec8429"/><circle cx="-1.38" cy="-0.39" r="0.95" fill="#f4f4f4" stroke="#2a1408" stroke-width="1.2" vector-effect="non-scaling-stroke" clip-path="url(#u)"/><circle r="1" fill="none" stroke="#2a1408" stroke-width="1.5" vector-effect="non-scaling-stroke"/></g>
<g transform="matrix(1.70 -3.10 3.61 4.24 561.1 419.9)"><circle r="1" fill="#ec8429"/><circle cx="-1.60" cy="-0.55" r="0.95" fill="#f4f4f4" stroke="#2a1408" stroke-width="1.2" vector-effect="non-scaling-stroke" clip-path="url(#u)"/><circle r="1" fill="none" stroke="#2a1408" stroke-width="1.5" vector-effect="non-scaling-stroke"/></g>
<g transform="matrix(1.10 -3.17 3.71 3.98 567.7 404.3)"><circle r="1" fill="#ec8429"/><circle r="1" fill="none" stroke="#2a1408" stroke-width="1.5" vector-effect="non-scaling-stroke"/></g>
<g transform="matrix(0.49 -3.21 3.77 3.72 571 388.1)"><circle r="1" fill="#ec8429"/><circle r="1" fill="none" stroke="#2a1408" stroke-width="1.5" vector-effect="non-scaling-stroke"/></g>
<g transform="matrix(3.10 -2.75 3.17 4.86 536.5 464.9)"><circle r="1" fill="#ec8429"/><circle cx="-1.09" cy="-0.21" r="0.95" fill="#f4f4f4" stroke="#2a1408" stroke-width="1.2" vector-effect="non-scaling-stroke" clip-path="url(#u)"/><circle r="1" fill="none" stroke="#2a1408" stroke-width="1.5" vector-effect="non-scaling-stroke"/></g>
<g transform="matrix(2.57 -2.92 3.37 4.62 551.2 451.1)"><circle r="1" fill="#ec8429"/><circle cx="-1.27" cy="-0.32" r="0.95" fill="#f4f4f4" stroke="#2a1408" stroke-width="1.2" vector-effect="non-scaling-stroke" clip-path="url(#u)"/><circle r="1" fill="none" stroke="#2a1408" stroke-width="1.5" vector-effect="non-scaling-stroke"/></g>
<g transform="matrix(2.01 -3.05 3.54 4.38 562.8 436.3)"><circle r="1" fill="#ec8429"/><circle cx="-1.47" cy="-0.46" r="0.95" fill="#f4f4f4" stroke="#2a1408" stroke-width="1.2" vector-effect="non-scaling-stroke" clip-path="url(#u)"/><circle r="1" fill="none" stroke="#2a1408" stroke-width="1.5" vector-effect="non-scaling-stroke"/></g>
<g transform="matrix(1.42 -3.15 3.66 4.12 571.4 420.5)"><circle r="1" fill="#ec8429"/><circle cx="-1.71" cy="-0.64" r="0.95" fill="#f4f4f4" stroke="#2a1408" stroke-width="1.2" vector-effect="non-scaling-stroke" clip-path="url(#u)"/><circle r="1" fill="none" stroke="#2a1408" stroke-width="1.5" vector-effect="non-scaling-stroke"/></g>
<g transform="matrix(0.82 -3.21 3.74 3.86 576.6 404.1)"><circle r="1" fill="#ec8429"/><circle r="1" fill="none" stroke="#2a1408" stroke-width="1.5" vector-effect="non-scaling-stroke"/></g>
<g transform="matrix(3.37 -2.66 3.04 4.98 534.1 482.5)"><circle r="1" fill="#ec8429"/><circle cx="-1.00" cy="-0.17" r="0.95" fill="#f4f4f4" stroke="#2a1408" stroke-width="1.2" vector-effect="non-scaling-stroke" clip-path="url(#u)"/><circle r="1" fill="none" stroke="#2a1408" stroke-width="1.5" vector-effect="non-scaling-stroke"/></g>
<g transform="matrix(2.86 -2.85 3.27 4.75 550.7 468.9)"><circle r="1" fill="#ec8429"/><circle cx="-1.17" cy="-0.26" r="0.95" fill="#f4f4f4" stroke="#2a1408" stroke-width="1.2" vector-effect="non-scaling-stroke" clip-path="url(#u)"/><circle r="1" fill="none" stroke="#2a1408" stroke-width="1.5" vector-effect="non-scaling-stroke"/></g>
<g transform="matrix(2.32 -3.00 3.45 4.51 564.4 454.1)"><circle r="1" fill="#ec8429"/><circle cx="-1.36" cy="-0.38" r="0.95" fill="#f4f4f4" stroke="#2a1408" stroke-width="1.2" vector-effect="non-scaling-stroke" clip-path="url(#u)"/><circle r="1" fill="none" stroke="#2a1408" stroke-width="1.5" vector-effect="non-scaling-stroke"/></g>
<g transform="matrix(1.74 -3.11 3.60 4.26 574.9 438.2)"><circle r="1" fill="#ec8429"/><circle cx="-1.58" cy="-0.54" r="0.95" fill="#f4f4f4" stroke="#2a1408" stroke-width="1.2" vector-effect="non-scaling-stroke" clip-path="url(#u)"/><circle r="1" fill="none" stroke="#2a1408" stroke-width="1.5" vector-effect="non-scaling-stroke"/></g>
<g transform="matrix(1.15 -3.19 3.71 4.00 582.2 421.6)"><circle r="1" fill="#ec8429"/><circle r="1" fill="none" stroke="#2a1408" stroke-width="1.5" vector-effect="non-scaling-stroke"/></g>
<g transform="matrix(0.54 -3.23 3.77 3.74 586 404.3)"><circle r="1" fill="#ec8429"/><circle r="1" fill="none" stroke="#2a1408" stroke-width="1.5" vector-effect="non-scaling-stroke"/></g>
<g transform="matrix(3.14 -2.76 3.15 4.87 547.5 484.8)"><circle r="1" fill="#ec8429"/><circle cx="-1.08" cy="-0.21" r="0.95" fill="#f4f4f4" stroke="#2a1408" stroke-width="1.2" vector-effect="non-scaling-stroke" clip-path="url(#u)"/><circle r="1" fill="none" stroke="#2a1408" stroke-width="1.5" vector-effect="non-scaling-stroke"/></g>
<g transform="matrix(2.61 -2.93 3.36 4.64 563.1 470.2)"><circle r="1" fill="#ec8429"/><circle cx="-1.25" cy="-0.32" r="0.95" fill="#f4f4f4" stroke="#2a1408" stroke-width="1.2" vector-effect="non-scaling-stroke" clip-path="url(#u)"/><circle r="1" fill="none" stroke="#2a1408" stroke-width="1.5" vector-effect="non-scaling-stroke"/></g>
<g transform="matrix(2.05 -3.07 3.53 4.40 575.7 454.4)"><circle r="1" fill="#ec8429"/><circle cx="-1.45" cy="-0.45" r="0.95" fill="#f4f4f4" stroke="#2a1408" stroke-width="1.2" vector-effect="non-scaling-stroke" clip-path="url(#u)"/><circle r="1" fill="none" stroke="#2a1408" stroke-width="1.5" vector-effect="non-scaling-stroke"/></g>
<g transform="matrix(1.47 -3.17 3.65 4.14 584.9 437.7)"><circle r="1" fill="#ec8429"/><circle cx="-1.68" cy="-0.62" r="0.95" fill="#f4f4f4" stroke="#2a1408" stroke-width="1.2" vector-effect="non-scaling-stroke" clip-path="url(#u)"/><circle r="1" fill="none" stroke="#2a1408" stroke-width="1.5" vector-effect="non-scaling-stroke"/></g>
<g transform="matrix(0.87 -3.23 3.74 3.88 590.7 420.3)"><circle r="1" fill="#ec8429"/><circle r="1" fill="none" stroke="#2a1408" stroke-width="1.5" vector-effect="non-scaling-stroke"/></g>
</g>
<g id="standpipe">
<polygon points="171.8,280 172.4,341.9 173.4,347.5 175.1,353 177.5,358.5 180.6,363.8 184.4,369 188.8,373.9 193.9,378.7 199.6,383.3 205.9,387.6 212.8,391.7 220.2,395.4 228.1,398.9 236.5,402 245.2,404.8 254.4,407.3 263.8,409.4 273.6,411.1 283.5,412.4 293.7,413.4 304,413.9 314.4,414.1 324.8,413.8 335.2,413.2 345.5,412.2 355.7,410.8 365.8,409 375.6,406.8 385.2,404.3 394.4,401.4 403.3,398.2 411.8,394.7 419.9,390.9 427.5,386.7 434.5,382.4 441,377.8 447,372.9 452.3,367.9 457,362.7 461,357.4 464.3,351.9 467,346.3 468.9,340.7 470.1,335.1 470.6,329.4 469.6,250" fill="url(#gCyl)" stroke="#1c1c1c" stroke-width="1.2" stroke-linejoin="round" />
<polygon points="9.5,203.7 339,353 625.3,165.2 624.8,168 339,355.8 10,206.5" fill="#45454f" stroke="#1c1c1c" stroke-width="1.0" stroke-linejoin="round" />
<polygon points="295.7,14.7 625.3,165.2 339,353 9.5,203.7" fill="#707075" stroke="#1c1c1c" stroke-width="1.2" stroke-linejoin="round" />
<ellipse cx="317" cy="183" rx="147" ry="81" transform="rotate(-1.3 317 183)" fill="url(#gHole)" stroke="#1f0f06" stroke-width="1.7" />
<ellipse cx="317" cy="183" rx="144.6" ry="79" transform="rotate(-1.3 317 183)" fill="none" stroke="#2a1208" stroke-width="1.0" />
<ellipse cx="297.2" cy="24.7" rx="3.9" ry="2.6" fill="#5e5e63" stroke="#19191b" stroke-width="1.5"/>
<ellipse cx="162.2" cy="112.7" rx="3.9" ry="2.6" fill="#5e5e63" stroke="#19191b" stroke-width="1.5"/>
<ellipse cx="197.2" cy="128.6" rx="3.9" ry="2.6" fill="#5e5e63" stroke="#19191b" stroke-width="1.5"/>
<ellipse cx="27" cy="200.6" rx="3.9" ry="2.6" fill="#5e5e63" stroke="#19191b" stroke-width="1.5"/>
<ellipse cx="212.2" cy="250.8" rx="3.9" ry="2.6" fill="#5e5e63" stroke="#19191b" stroke-width="1.5"/>
<ellipse cx="182" cy="271" rx="3.9" ry="2.6" fill="#5e5e63" stroke="#19191b" stroke-width="1.5"/>
<ellipse cx="452.1" cy="95.4" rx="3.9" ry="2.6" fill="#5e5e63" stroke="#19191b" stroke-width="1.5"/>
<ellipse cx="421.4" cy="115.2" rx="3.9" ry="2.6" fill="#5e5e63" stroke="#19191b" stroke-width="1.5"/>
<ellipse cx="606.8" cy="166.3" rx="3.9" ry="2.6" fill="#5e5e63" stroke="#19191b" stroke-width="1.5"/>
<ellipse cx="436.9" cy="237.7" rx="3.9" ry="2.6" fill="#5e5e63" stroke="#19191b" stroke-width="1.5"/>
<ellipse cx="472" cy="254.4" rx="3.9" ry="2.6" fill="#5e5e63" stroke="#19191b" stroke-width="1.5"/>
<ellipse cx="338" cy="343.5" rx="3.9" ry="2.6" fill="#5e5e63" stroke="#19191b" stroke-width="1.5"/>
</g>
<g id="arrows">
<line x1="756" y1="71.2" x2="604.6" y2="103.8" stroke="#222" stroke-width="1"/>
<polygon points="561.1,113.2 605.7,108.7 603.5,98.9" fill="#000"/>
<line x1="754.3" y1="286.5" x2="624.1" y2="324.1" stroke="#222" stroke-width="1"/>
<polygon points="581.3,336.4 625.4,328.9 622.7,319.3" fill="#000"/>
<line x1="754.7" y1="582" x2="498.7" y2="635.2" stroke="#222" stroke-width="1"/>
<polygon points="455.1,644.2 499.7,640 497.7,630.3" fill="#000"/>
<line x1="754.7" y1="760.5" x2="585.5" y2="810.8" stroke="#222" stroke-width="1"/>
<polygon points="542.8,823.5 586.9,815.6 584,806" fill="#000"/>
<line x1="754.7" y1="946" x2="534.2" y2="1064.9" stroke="#222" stroke-width="1"/>
<polygon points="495,1086 536.5,1069.3 531.8,1060.5" fill="#000"/>
<line x1="754.7" y1="1141.8" x2="565.4" y2="1200.4" stroke="#222" stroke-width="1"/>
<polygon points="522.9,1213.5 566.9,1205.1 563.9,1195.6" fill="#000"/>
</g>
<g id="labels">
<text x="769.3" y="78.3" class="b" textLength="154.3" lengthAdjust="spacingAndGlyphs">Standpipe</text>
<text x="769.3" y="115" textLength="362" lengthAdjust="spacingAndGlyphs">Steel plate Fabrication with</text>
<text x="769.3" y="150.6" textLength="431.5" lengthAdjust="spacingAndGlyphs">Urethane lining through cylinder</text>
<text x="769.3" y="289.8" class="b" textLength="170.5" lengthAdjust="spacingAndGlyphs">Skirt Board</text>
<text x="769.3" y="325.6" textLength="366.5" lengthAdjust="spacingAndGlyphs">Solid urethane construction</text>
<text x="769.3" y="362" textLength="409.5" lengthAdjust="spacingAndGlyphs">Will not deteriorate like rubber</text>
<text x="769.3" y="585.6" class="b" textLength="85.5" lengthAdjust="spacingAndGlyphs">Rotor</text>
<text x="769.3" y="621.6" textLength="278" lengthAdjust="spacingAndGlyphs">Balanced steel insert</text>
<text x="769.3" y="658" textLength="340" lengthAdjust="spacingAndGlyphs">Encapsulated in urethane</text>
<text x="769.3" y="767" class="b" textLength="145.3" lengthAdjust="spacingAndGlyphs">Disperser</text>
<text x="769.3" y="804" textLength="366.5" lengthAdjust="spacingAndGlyphs">Solid urethane construction</text>
<text x="769.3" y="841" textLength="332.5" lengthAdjust="spacingAndGlyphs">With integral bolting ring</text>
<text x="769.3" y="953.8" class="b" textLength="433.5" lengthAdjust="spacingAndGlyphs">Adjustable Draft Tube Collar</text>
<text x="769.3" y="991" textLength="449" lengthAdjust="spacingAndGlyphs">Steel backing plate with urethane</text>
<text x="769.3" y="1027.3" textLength="442" lengthAdjust="spacingAndGlyphs">On inside diameter and urethane</text>
<text x="769.3" y="1064" textLength="411" lengthAdjust="spacingAndGlyphs">Lining on bottom of base plate</text>
<text x="769.3" y="1153" class="b" textLength="163.5" lengthAdjust="spacingAndGlyphs">Draft Tube</text>
<text x="769.3" y="1189.7" textLength="487" lengthAdjust="spacingAndGlyphs">Steel plate fabrication with urethane</text>
<text x="769.3" y="1226.4" textLength="395.5" lengthAdjust="spacingAndGlyphs">Lining on inside diameter and</text>
<text x="769.3" y="1263" textLength="461" lengthAdjust="spacingAndGlyphs">Urethane lining on bottow of plate</text>
</g>
</svg>
</body></html>
